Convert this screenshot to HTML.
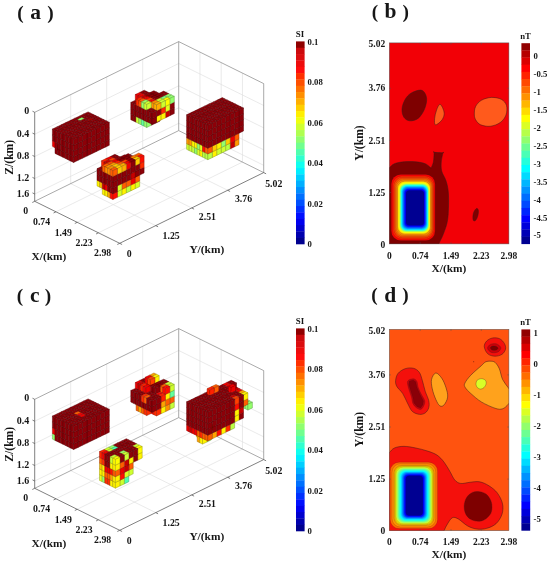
<!DOCTYPE html>
<html><head><meta charset="utf-8"><title>figure</title>
<style>html,body{margin:0;padding:0;background:#fff}svg{display:block}</style></head><body>
<svg width="550" height="563" viewBox="0 0 550 563">
<rect width="550" height="563" fill="#fff"/>
<line x1="70.70" y1="94.62" x2="70.70" y2="183.62" stroke="#dcdcdc" stroke-width="0.6"/>
<line x1="70.70" y1="183.62" x2="155.70" y2="225.62" stroke="#dcdcdc" stroke-width="0.6"/>
<line x1="55.95" y1="211.80" x2="199.95" y2="141.10" stroke="#dcdcdc" stroke-width="0.6"/>
<line x1="199.95" y1="52.10" x2="199.95" y2="141.10" stroke="#dcdcdc" stroke-width="0.6"/>
<line x1="106.70" y1="76.95" x2="106.70" y2="165.95" stroke="#dcdcdc" stroke-width="0.6"/>
<line x1="106.70" y1="165.95" x2="191.70" y2="207.95" stroke="#dcdcdc" stroke-width="0.6"/>
<line x1="77.20" y1="222.30" x2="221.20" y2="151.60" stroke="#dcdcdc" stroke-width="0.6"/>
<line x1="221.20" y1="62.60" x2="221.20" y2="151.60" stroke="#dcdcdc" stroke-width="0.6"/>
<line x1="142.70" y1="59.27" x2="142.70" y2="148.27" stroke="#dcdcdc" stroke-width="0.6"/>
<line x1="142.70" y1="148.28" x2="227.70" y2="190.28" stroke="#dcdcdc" stroke-width="0.6"/>
<line x1="98.45" y1="232.80" x2="242.45" y2="162.10" stroke="#dcdcdc" stroke-width="0.6"/>
<line x1="242.45" y1="73.10" x2="242.45" y2="162.10" stroke="#dcdcdc" stroke-width="0.6"/>
<line x1="34.70" y1="134.19" x2="178.70" y2="63.49" stroke="#dcdcdc" stroke-width="0.6"/>
<line x1="178.70" y1="63.49" x2="263.70" y2="105.49" stroke="#dcdcdc" stroke-width="0.6"/>
<line x1="34.70" y1="156.53" x2="178.70" y2="85.83" stroke="#dcdcdc" stroke-width="0.6"/>
<line x1="178.70" y1="85.83" x2="263.70" y2="127.83" stroke="#dcdcdc" stroke-width="0.6"/>
<line x1="34.70" y1="178.52" x2="178.70" y2="107.82" stroke="#dcdcdc" stroke-width="0.6"/>
<line x1="178.70" y1="107.82" x2="263.70" y2="149.82" stroke="#dcdcdc" stroke-width="0.6"/>
<line x1="34.70" y1="194.00" x2="178.70" y2="123.30" stroke="#dcdcdc" stroke-width="0.6"/>
<line x1="178.70" y1="123.30" x2="263.70" y2="165.30" stroke="#dcdcdc" stroke-width="0.6"/>
<line x1="34.70" y1="112.30" x2="178.70" y2="41.60" stroke="#858585" stroke-width="0.7"/>
<line x1="178.70" y1="41.60" x2="263.70" y2="83.60" stroke="#858585" stroke-width="0.7"/>
<line x1="263.70" y1="83.60" x2="263.70" y2="172.60" stroke="#858585" stroke-width="0.7"/>
<line x1="178.70" y1="41.60" x2="178.70" y2="130.60" stroke="#858585" stroke-width="0.7"/>
<line x1="178.70" y1="130.60" x2="34.70" y2="201.30" stroke="#858585" stroke-width="0.7"/>
<line x1="178.70" y1="130.60" x2="263.70" y2="172.60" stroke="#858585" stroke-width="0.7"/>
<g stroke-width="0.45" stroke-linejoin="round"><polygon points="148.6,93.8 151.3,95.1 155.8,93.0 153.1,91.7" fill="#8c0008" stroke="#540005"/><polygon points="151.3,95.1 153.9,96.4 158.4,94.2 155.8,93.0" fill="#8c0008" stroke="#540005"/><polygon points="153.9,96.4 156.6,97.7 161.1,95.6 158.4,94.2" fill="#8c0008" stroke="#540005"/><polygon points="156.6,97.7 159.2,99.0 163.7,96.9 161.1,95.6" fill="#8c0008" stroke="#540005"/><polygon points="159.2,93.3 161.9,94.6 166.4,92.4 163.7,91.1" fill="#8c0008" stroke="#540005"/><polygon points="161.9,94.6 164.5,95.9 169.0,93.7 166.4,92.4" fill="#8c0008" stroke="#540005"/><polygon points="164.5,95.9 167.2,97.2 171.7,95.0 169.0,93.7" fill="#93ff6c" stroke="#589941"/><polygon points="169.8,110.0 174.3,107.8 174.3,113.6 169.8,115.7" fill="#8c0008" stroke="#540005"/><polygon points="169.8,104.2 174.3,102.1 174.3,107.8 169.8,110.0" fill="#8c0008" stroke="#540005"/><polygon points="167.2,97.2 169.8,98.5 174.3,96.3 171.7,95.0" fill="#93ff6c" stroke="#589941"/><polygon points="169.8,98.5 174.3,96.3 174.3,102.1 169.8,104.2" fill="#93ff6c" stroke="#589941"/><polygon points="144.2,96.0 146.8,97.2 151.3,95.1 148.6,93.8" fill="#8c0008" stroke="#540005"/><polygon points="146.8,97.2 149.5,98.5 153.9,96.4 151.3,95.1" fill="#8c0008" stroke="#540005"/><polygon points="149.5,92.8 152.1,94.1 156.6,92.0 153.9,90.7" fill="#8c0008" stroke="#540005"/><polygon points="152.1,94.1 154.8,95.4 159.2,93.3 156.6,92.0" fill="#8c0008" stroke="#540005"/><polygon points="154.8,95.4 157.4,96.7 161.9,94.6 159.2,93.3" fill="#8c0008" stroke="#540005"/><polygon points="157.4,96.7 160.1,98.0 164.5,95.9 161.9,94.6" fill="#8c0008" stroke="#540005"/><polygon points="160.1,98.0 162.7,99.3 167.2,97.2 164.5,95.9" fill="#80ff80" stroke="#4c994c"/><polygon points="165.4,112.1 169.8,110.0 169.8,115.7 165.4,117.9" fill="#c60000" stroke="#770000"/><polygon points="165.4,106.4 169.8,104.2 169.8,110.0 165.4,112.1" fill="#e3ff1c" stroke="#889911"/><polygon points="162.7,99.3 165.4,100.6 169.8,98.5 167.2,97.2" fill="#fffd00" stroke="#999800"/><polygon points="165.4,100.6 169.8,98.5 169.8,104.2 165.4,106.4" fill="#fffd00" stroke="#999800"/><polygon points="139.7,92.4 142.4,93.7 146.8,91.5 144.2,90.2" fill="#8c0008" stroke="#540005"/><polygon points="142.4,93.7 145.0,95.0 149.5,92.8 146.8,91.5" fill="#8c0008" stroke="#540005"/><polygon points="145.0,95.0 147.7,96.3 152.1,94.1 149.5,92.8" fill="#8c0008" stroke="#540005"/><polygon points="147.7,96.3 150.3,97.6 154.8,95.4 152.1,94.1" fill="#8c0008" stroke="#540005"/><polygon points="150.3,97.6 153.0,98.9 157.4,96.7 154.8,95.4" fill="#8c0008" stroke="#540005"/><polygon points="155.6,117.4 160.1,115.2 160.1,121.0 155.6,123.2" fill="#8c0008" stroke="#540005"/><polygon points="153.0,98.9 155.6,100.2 160.1,98.0 157.4,96.7" fill="#8c0008" stroke="#540005"/><polygon points="155.6,100.2 158.3,101.5 162.7,99.3 160.1,98.0" fill="#cfff30" stroke="#7c991d"/><polygon points="160.9,114.3 165.4,112.1 165.4,117.9 160.9,120.0" fill="#fff300" stroke="#999200"/><polygon points="160.9,108.5 165.4,106.4 165.4,112.1 160.9,114.3" fill="#ff2b00" stroke="#991a00"/><polygon points="158.3,101.5 160.9,102.8 165.4,100.6 162.7,99.3" fill="#cfff30" stroke="#7c991d"/><polygon points="160.9,102.8 165.4,100.6 165.4,106.4 160.9,108.5" fill="#cfff30" stroke="#7c991d"/><polygon points="135.3,94.5 137.9,95.8 142.4,93.7 139.7,92.4" fill="#ee0000" stroke="#8f0000"/><polygon points="135.3,94.5 137.9,95.8 137.9,101.5 135.3,100.2" fill="#ee0000" stroke="#8f0000"/><polygon points="137.9,95.8 140.6,97.1 145.0,95.0 142.4,93.7" fill="#ee0000" stroke="#8f0000"/><polygon points="137.9,95.8 140.6,97.1 140.6,102.8 137.9,101.5" fill="#ee0000" stroke="#8f0000"/><polygon points="140.6,97.1 143.2,98.4 147.7,96.3 145.0,95.0" fill="#c60000" stroke="#770000"/><polygon points="143.2,98.4 145.9,99.7 150.3,97.6 147.7,96.3" fill="#ee0000" stroke="#8f0000"/><polygon points="145.9,99.7 148.5,101.0 153.0,98.9 150.3,97.6" fill="#ff3f00" stroke="#992600"/><polygon points="151.2,119.5 155.6,117.4 155.6,123.2 151.2,125.3" fill="#8c0008" stroke="#540005"/><polygon points="148.5,101.0 151.2,102.3 155.6,100.2 153.0,98.9" fill="#ee0000" stroke="#8f0000"/><polygon points="151.2,102.3 153.8,103.6 158.3,101.5 155.6,100.2" fill="#ff8f00" stroke="#995600"/><polygon points="151.2,102.3 153.8,103.6 153.8,109.3 151.2,108.0" fill="#ff8f00" stroke="#995600"/><polygon points="156.5,116.4 160.9,114.3 160.9,120.0 156.5,122.2" fill="#fff300" stroke="#999200"/><polygon points="156.5,110.7 160.9,108.5 160.9,114.3 156.5,116.4" fill="#8c0008" stroke="#540005"/><polygon points="153.8,103.6 156.5,104.9 160.9,102.8 158.3,101.5" fill="#ffad00" stroke="#996800"/><polygon points="153.8,103.6 156.5,104.9 156.5,110.7 153.8,109.3" fill="#ffad00" stroke="#996800"/><polygon points="156.5,104.9 160.9,102.8 160.9,108.5 156.5,110.7" fill="#ffad00" stroke="#996800"/><polygon points="130.8,113.9 133.5,115.2 133.5,121.0 130.8,119.7" fill="#8c0008" stroke="#540005"/><polygon points="130.8,108.2 133.5,109.5 133.5,115.2 130.8,113.9" fill="#8c0008" stroke="#540005"/><polygon points="130.8,102.4 133.5,103.7 137.9,101.5 135.3,100.2" fill="#8c0008" stroke="#540005"/><polygon points="130.8,102.4 133.5,103.7 133.5,109.5 130.8,108.2" fill="#8c0008" stroke="#540005"/><polygon points="133.5,115.2 136.1,116.5 136.1,122.2 133.5,121.0" fill="#8c0008" stroke="#540005"/><polygon points="133.5,109.5 136.1,110.8 136.1,116.5 133.5,115.2" fill="#8c0008" stroke="#540005"/><polygon points="133.5,103.7 136.1,105.0 140.6,102.8 137.9,101.5" fill="#8c0008" stroke="#540005"/><polygon points="133.5,103.7 136.1,105.0 136.1,110.8 133.5,109.5" fill="#8c0008" stroke="#540005"/><polygon points="136.1,116.5 138.8,117.8 138.8,123.6 136.1,122.2" fill="#cfff30" stroke="#7c991d"/><polygon points="136.1,110.8 138.8,112.1 138.8,117.8 136.1,116.5" fill="#8c0008" stroke="#540005"/><polygon points="136.1,105.0 138.8,106.3 138.8,112.1 136.1,110.8" fill="#8c0008" stroke="#540005"/><polygon points="136.1,99.2 138.8,100.6 143.2,98.4 140.6,97.1" fill="#ff2b00" stroke="#991a00"/><polygon points="136.1,99.2 138.8,100.6 138.8,106.3 136.1,105.0" fill="#ff2b00" stroke="#991a00"/><polygon points="138.8,117.8 141.4,119.1 141.4,124.9 138.8,123.6" fill="#9dff62" stroke="#5e993b"/><polygon points="138.8,112.1 141.4,113.4 141.4,119.1 138.8,117.8" fill="#8c0008" stroke="#540005"/><polygon points="138.8,106.3 141.4,107.6 141.4,113.4 138.8,112.1" fill="#8c0008" stroke="#540005"/><polygon points="138.8,100.6 141.4,101.9 145.9,99.7 143.2,98.4" fill="#ff5d00" stroke="#993800"/><polygon points="138.8,100.6 141.4,101.9 141.4,107.6 138.8,106.3" fill="#ff5d00" stroke="#993800"/><polygon points="141.4,119.1 144.1,120.4 144.1,126.2 141.4,124.9" fill="#62ff9d" stroke="#3b995e"/><polygon points="141.4,113.4 144.1,114.7 144.1,120.4 141.4,119.1" fill="#8c0008" stroke="#540005"/><polygon points="141.4,107.6 144.1,108.9 144.1,114.7 141.4,113.4" fill="#8c0008" stroke="#540005"/><polygon points="141.4,101.9 144.1,103.2 148.5,101.0 145.9,99.7" fill="#9dff62" stroke="#5e993b"/><polygon points="141.4,101.9 144.1,103.2 144.1,108.9 141.4,107.6" fill="#9dff62" stroke="#5e993b"/><polygon points="144.1,120.4 146.7,121.7 146.7,127.5 144.1,126.2" fill="#93ff6c" stroke="#589941"/><polygon points="146.7,121.7 151.2,119.5 151.2,125.3 146.7,127.5" fill="#93ff6c" stroke="#589941"/><polygon points="144.1,114.7 146.7,116.0 146.7,121.7 144.1,120.4" fill="#8c0008" stroke="#540005"/><polygon points="144.1,108.9 146.7,110.2 146.7,116.0 144.1,114.7" fill="#8c0008" stroke="#540005"/><polygon points="144.1,103.2 146.7,104.5 151.2,102.3 148.5,101.0" fill="#cfff30" stroke="#7c991d"/><polygon points="144.1,103.2 146.7,104.5 146.7,110.2 144.1,108.9" fill="#cfff30" stroke="#7c991d"/><polygon points="146.7,104.5 151.2,102.3 151.2,108.0 146.7,110.2" fill="#cfff30" stroke="#7c991d"/><polygon points="146.7,116.0 149.4,117.2 149.4,123.0 146.7,121.7" fill="#8c0008" stroke="#540005"/><polygon points="146.7,110.2 149.4,111.5 153.8,109.3 151.2,108.0" fill="#8c0008" stroke="#540005"/><polygon points="146.7,110.2 149.4,111.5 149.4,117.2 146.7,116.0" fill="#8c0008" stroke="#540005"/><polygon points="149.4,117.2 152.0,118.6 152.0,124.3 149.4,123.0" fill="#8c0008" stroke="#540005"/><polygon points="152.0,118.6 156.5,116.4 156.5,122.2 152.0,124.3" fill="#8c0008" stroke="#540005"/><polygon points="149.4,111.5 152.0,112.8 156.5,110.7 153.8,109.3" fill="#8c0008" stroke="#540005"/><polygon points="149.4,111.5 152.0,112.8 152.0,118.6 149.4,117.2" fill="#8c0008" stroke="#540005"/><polygon points="152.0,112.8 156.5,110.7 156.5,116.4 152.0,118.6" fill="#8c0008" stroke="#540005"/></g>
<g stroke-width="0.45" stroke-linejoin="round"><polygon points="83.6,114.0 86.3,115.4 90.7,113.2 88.1,111.9" fill="#8c0008" stroke="#540005"/><polygon points="86.3,115.4 88.9,116.6 93.4,114.5 90.7,113.2" fill="#8c0008" stroke="#540005"/><polygon points="88.9,116.6 91.6,118.0 96.0,115.8 93.4,114.5" fill="#8c0008" stroke="#540005"/><polygon points="91.6,118.0 94.2,119.2 98.7,117.1 96.0,115.8" fill="#8c0008" stroke="#540005"/><polygon points="94.2,119.2 96.9,120.5 101.3,118.4 98.7,117.1" fill="#8c0008" stroke="#540005"/><polygon points="96.9,120.5 99.5,121.9 104.0,119.7 101.3,118.4" fill="#8c0008" stroke="#540005"/><polygon points="99.5,121.9 102.2,123.1 106.6,121.0 104.0,119.7" fill="#8c0008" stroke="#540005"/><polygon points="104.8,141.7 109.3,139.6 109.3,145.3 104.8,147.4" fill="#8c0008" stroke="#540005"/><polygon points="104.8,135.9 109.3,133.8 109.3,139.6 104.8,141.7" fill="#8c0008" stroke="#540005"/><polygon points="104.8,130.2 109.3,128.1 109.3,133.8 104.8,135.9" fill="#8c0008" stroke="#540005"/><polygon points="102.2,123.1 104.8,124.5 109.3,122.3 106.6,121.0" fill="#8c0008" stroke="#540005"/><polygon points="104.8,124.5 109.3,122.3 109.3,128.1 104.8,130.2" fill="#8c0008" stroke="#540005"/><polygon points="79.2,116.2 81.8,117.5 86.3,115.4 83.6,114.0" fill="#8c0008" stroke="#540005"/><polygon points="81.8,117.5 84.5,118.8 88.9,116.6 86.3,115.4" fill="#8c0008" stroke="#540005"/><polygon points="84.5,118.8 87.1,120.1 91.6,118.0 88.9,116.6" fill="#8c0008" stroke="#540005"/><polygon points="87.1,120.1 89.8,121.4 94.2,119.2 91.6,118.0" fill="#a80000" stroke="#650000"/><polygon points="89.8,121.4 92.4,122.7 96.9,120.5 94.2,119.2" fill="#8c0008" stroke="#540005"/><polygon points="92.4,122.7 95.1,124.0 99.5,121.9 96.9,120.5" fill="#8c0008" stroke="#540005"/><polygon points="95.1,124.0 97.7,125.3 102.2,123.1 99.5,121.9" fill="#8c0008" stroke="#540005"/><polygon points="100.4,143.8 104.8,141.7 104.8,147.4 100.4,149.6" fill="#8c0008" stroke="#540005"/><polygon points="100.4,138.1 104.8,135.9 104.8,141.7 100.4,143.8" fill="#8c0008" stroke="#540005"/><polygon points="100.4,132.3 104.8,130.2 104.8,135.9 100.4,138.1" fill="#8c0008" stroke="#540005"/><polygon points="97.7,125.3 100.4,126.6 104.8,124.5 102.2,123.1" fill="#8c0008" stroke="#540005"/><polygon points="100.4,126.6 104.8,124.5 104.8,130.2 100.4,132.3" fill="#8c0008" stroke="#540005"/><polygon points="74.7,118.3 77.3,119.7 81.8,117.5 79.2,116.2" fill="#8c0008" stroke="#540005"/><polygon points="77.3,119.7 80.0,120.9 84.5,118.8 81.8,117.5" fill="#93ff6c" stroke="#589941"/><polygon points="80.0,120.9 82.6,122.2 87.1,120.1 84.5,118.8" fill="#8c0008" stroke="#540005"/><polygon points="82.6,122.2 85.3,123.5 89.8,121.4 87.1,120.1" fill="#8c0008" stroke="#540005"/><polygon points="85.3,123.5 88.0,124.8 92.4,122.7 89.8,121.4" fill="#8c0008" stroke="#540005"/><polygon points="88.0,124.8 90.6,126.2 95.1,124.0 92.4,122.7" fill="#8c0008" stroke="#540005"/><polygon points="90.6,126.2 93.2,127.4 97.7,125.3 95.1,124.0" fill="#8c0008" stroke="#540005"/><polygon points="95.9,146.0 100.4,143.8 100.4,149.6 95.9,151.8" fill="#8c0008" stroke="#540005"/><polygon points="95.9,140.2 100.4,138.1 100.4,143.8 95.9,146.0" fill="#8c0008" stroke="#540005"/><polygon points="95.9,134.5 100.4,132.3 100.4,138.1 95.9,140.2" fill="#8c0008" stroke="#540005"/><polygon points="93.2,127.4 95.9,128.8 100.4,126.6 97.7,125.3" fill="#8c0008" stroke="#540005"/><polygon points="95.9,128.8 100.4,126.6 100.4,132.3 95.9,134.5" fill="#8c0008" stroke="#540005"/><polygon points="70.2,120.5 72.9,121.8 77.3,119.7 74.7,118.3" fill="#8c0008" stroke="#540005"/><polygon points="72.9,121.8 75.5,123.1 80.0,120.9 77.3,119.7" fill="#8c0008" stroke="#540005"/><polygon points="75.5,123.1 78.2,124.4 82.6,122.2 80.0,120.9" fill="#8c0008" stroke="#540005"/><polygon points="78.2,124.4 80.8,125.7 85.3,123.5 82.6,122.2" fill="#8c0008" stroke="#540005"/><polygon points="80.8,125.7 83.5,127.0 88.0,124.8 85.3,123.5" fill="#8c0008" stroke="#540005"/><polygon points="83.5,127.0 86.1,128.3 90.6,126.2 88.0,124.8" fill="#8c0008" stroke="#540005"/><polygon points="86.1,128.3 88.8,129.6 93.2,127.4 90.6,126.2" fill="#8c0008" stroke="#540005"/><polygon points="91.4,148.2 95.9,146.0 95.9,151.8 91.4,153.9" fill="#8c0008" stroke="#540005"/><polygon points="91.4,142.4 95.9,140.2 95.9,146.0 91.4,148.2" fill="#8c0008" stroke="#540005"/><polygon points="91.4,136.7 95.9,134.5 95.9,140.2 91.4,142.4" fill="#8c0008" stroke="#540005"/><polygon points="88.8,129.6 91.4,130.9 95.9,128.8 93.2,127.4" fill="#8c0008" stroke="#540005"/><polygon points="91.4,130.9 95.9,128.8 95.9,134.5 91.4,136.7" fill="#8c0008" stroke="#540005"/><polygon points="65.8,122.6 68.4,124.0 72.9,121.8 70.2,120.5" fill="#8c0008" stroke="#540005"/><polygon points="68.4,124.0 71.1,125.2 75.5,123.1 72.9,121.8" fill="#8c0008" stroke="#540005"/><polygon points="71.1,125.2 73.7,126.5 78.2,124.4 75.5,123.1" fill="#8c0008" stroke="#540005"/><polygon points="73.7,126.5 76.4,127.8 80.8,125.7 78.2,124.4" fill="#8c0008" stroke="#540005"/><polygon points="76.4,127.8 79.0,129.2 83.5,127.0 80.8,125.7" fill="#8c0008" stroke="#540005"/><polygon points="79.0,129.2 81.7,130.5 86.1,128.3 83.5,127.0" fill="#8c0008" stroke="#540005"/><polygon points="81.7,130.5 84.3,131.8 88.8,129.6 86.1,128.3" fill="#8c0008" stroke="#540005"/><polygon points="87.0,150.3 91.4,148.2 91.4,153.9 87.0,156.1" fill="#8c0008" stroke="#540005"/><polygon points="87.0,144.6 91.4,142.4 91.4,148.2 87.0,150.3" fill="#8c0008" stroke="#540005"/><polygon points="87.0,138.8 91.4,136.7 91.4,142.4 87.0,144.6" fill="#8c0008" stroke="#540005"/><polygon points="84.3,131.8 87.0,133.1 91.4,130.9 88.8,129.6" fill="#8c0008" stroke="#540005"/><polygon points="87.0,133.1 91.4,130.9 91.4,136.7 87.0,138.8" fill="#8c0008" stroke="#540005"/><polygon points="61.3,124.8 64.0,126.1 68.4,124.0 65.8,122.6" fill="#8c0008" stroke="#540005"/><polygon points="64.0,126.1 66.6,127.4 71.1,125.2 68.4,124.0" fill="#8c0008" stroke="#540005"/><polygon points="66.6,127.4 69.3,128.7 73.7,126.5 71.1,125.2" fill="#8c0008" stroke="#540005"/><polygon points="69.3,128.7 71.9,130.0 76.4,127.8 73.7,126.5" fill="#8c0008" stroke="#540005"/><polygon points="71.9,130.0 74.6,131.3 79.0,129.2 76.4,127.8" fill="#8c0008" stroke="#540005"/><polygon points="74.6,131.3 77.2,132.6 81.7,130.5 79.0,129.2" fill="#8c0008" stroke="#540005"/><polygon points="77.2,132.6 79.9,133.9 84.3,131.8 81.7,130.5" fill="#8c0008" stroke="#540005"/><polygon points="82.5,152.4 87.0,150.3 87.0,156.1 82.5,158.2" fill="#8c0008" stroke="#540005"/><polygon points="82.5,146.7 87.0,144.6 87.0,150.3 82.5,152.4" fill="#8c0008" stroke="#540005"/><polygon points="82.5,140.9 87.0,138.8 87.0,144.6 82.5,146.7" fill="#8c0008" stroke="#540005"/><polygon points="79.9,133.9 82.5,135.2 87.0,133.1 84.3,131.8" fill="#8c0008" stroke="#540005"/><polygon points="82.5,135.2 87.0,133.1 87.0,138.8 82.5,140.9" fill="#8c0008" stroke="#540005"/><polygon points="56.9,144.2 59.5,145.5 59.5,151.2 56.9,149.9" fill="#8c0008" stroke="#540005"/><polygon points="56.9,126.9 59.5,128.2 64.0,126.1 61.3,124.8" fill="#8c0008" stroke="#540005"/><polygon points="59.5,128.2 62.2,129.5 66.6,127.4 64.0,126.1" fill="#8c0008" stroke="#540005"/><polygon points="62.2,129.5 64.8,130.8 69.3,128.7 66.6,127.4" fill="#8c0008" stroke="#540005"/><polygon points="64.8,130.8 67.5,132.1 71.9,130.0 69.3,128.7" fill="#8c0008" stroke="#540005"/><polygon points="67.5,132.1 70.1,133.4 74.6,131.3 71.9,130.0" fill="#8c0008" stroke="#540005"/><polygon points="70.1,133.4 72.8,134.8 77.2,132.6 74.6,131.3" fill="#8c0008" stroke="#540005"/><polygon points="72.8,134.8 75.4,136.0 79.9,133.9 77.2,132.6" fill="#8c0008" stroke="#540005"/><polygon points="78.1,154.6 82.5,152.4 82.5,158.2 78.1,160.3" fill="#8c0008" stroke="#540005"/><polygon points="78.1,148.8 82.5,146.7 82.5,152.4 78.1,154.6" fill="#8c0008" stroke="#540005"/><polygon points="78.1,143.1 82.5,140.9 82.5,146.7 78.1,148.8" fill="#8c0008" stroke="#540005"/><polygon points="75.4,136.0 78.1,137.3 82.5,135.2 79.9,133.9" fill="#8c0008" stroke="#540005"/><polygon points="78.1,137.3 82.5,135.2 82.5,140.9 78.1,143.1" fill="#8c0008" stroke="#540005"/><polygon points="52.4,140.6 55.0,141.9 55.0,147.7 52.4,146.3" fill="#ee0000" stroke="#8f0000"/><polygon points="52.4,134.8 55.0,136.2 55.0,141.9 52.4,140.6" fill="#8c0008" stroke="#540005"/><polygon points="52.4,129.1 55.0,130.4 59.5,128.2 56.9,126.9" fill="#8c0008" stroke="#540005"/><polygon points="52.4,129.1 55.0,130.4 55.0,136.2 52.4,134.8" fill="#8c0008" stroke="#540005"/><polygon points="55.0,147.7 57.7,148.9 57.7,154.7 55.0,153.4" fill="#8c0008" stroke="#540005"/><polygon points="55.0,141.9 57.7,143.2 57.7,148.9 55.0,147.7" fill="#8c0008" stroke="#540005"/><polygon points="55.0,136.2 57.7,137.4 57.7,143.2 55.0,141.9" fill="#8c0008" stroke="#540005"/><polygon points="55.0,130.4 57.7,131.7 62.2,129.5 59.5,128.2" fill="#8c0008" stroke="#540005"/><polygon points="55.0,130.4 57.7,131.7 57.7,137.4 55.0,136.2" fill="#8c0008" stroke="#540005"/><polygon points="57.7,148.9 60.3,150.2 60.3,156.0 57.7,154.7" fill="#8c0008" stroke="#540005"/><polygon points="57.7,143.2 60.3,144.5 60.3,150.2 57.7,148.9" fill="#8c0008" stroke="#540005"/><polygon points="57.7,137.4 60.3,138.8 60.3,144.5 57.7,143.2" fill="#8c0008" stroke="#540005"/><polygon points="57.7,131.7 60.3,133.0 64.8,130.8 62.2,129.5" fill="#8c0008" stroke="#540005"/><polygon points="57.7,131.7 60.3,133.0 60.3,138.8 57.7,137.4" fill="#8c0008" stroke="#540005"/><polygon points="60.3,150.2 63.0,151.5 63.0,157.3 60.3,156.0" fill="#8c0008" stroke="#540005"/><polygon points="60.3,144.5 63.0,145.8 63.0,151.5 60.3,150.2" fill="#8c0008" stroke="#540005"/><polygon points="60.3,138.8 63.0,140.0 63.0,145.8 60.3,144.5" fill="#8c0008" stroke="#540005"/><polygon points="60.3,133.0 63.0,134.3 67.5,132.1 64.8,130.8" fill="#8c0008" stroke="#540005"/><polygon points="60.3,133.0 63.0,134.3 63.0,140.0 60.3,138.8" fill="#8c0008" stroke="#540005"/><polygon points="63.0,151.5 65.7,152.8 65.7,158.6 63.0,157.3" fill="#8c0008" stroke="#540005"/><polygon points="63.0,145.8 65.7,147.1 65.7,152.8 63.0,151.5" fill="#8c0008" stroke="#540005"/><polygon points="63.0,140.0 65.7,141.3 65.7,147.1 63.0,145.8" fill="#8c0008" stroke="#540005"/><polygon points="63.0,134.3 65.7,135.6 70.1,133.4 67.5,132.1" fill="#8c0008" stroke="#540005"/><polygon points="63.0,134.3 65.7,135.6 65.7,141.3 63.0,140.0" fill="#8c0008" stroke="#540005"/><polygon points="65.7,152.8 68.3,154.2 68.3,159.9 65.7,158.6" fill="#8c0008" stroke="#540005"/><polygon points="65.7,147.1 68.3,148.4 68.3,154.2 65.7,152.8" fill="#8c0008" stroke="#540005"/><polygon points="65.7,141.3 68.3,142.7 68.3,148.4 65.7,147.1" fill="#8c0008" stroke="#540005"/><polygon points="65.7,135.6 68.3,136.9 72.8,134.8 70.1,133.4" fill="#8c0008" stroke="#540005"/><polygon points="65.7,135.6 68.3,136.9 68.3,142.7 65.7,141.3" fill="#8c0008" stroke="#540005"/><polygon points="68.3,154.2 71.0,155.4 71.0,161.2 68.3,159.9" fill="#8c0008" stroke="#540005"/><polygon points="68.3,148.4 71.0,149.7 71.0,155.4 68.3,154.2" fill="#8c0008" stroke="#540005"/><polygon points="68.3,142.7 71.0,143.9 71.0,149.7 68.3,148.4" fill="#8c0008" stroke="#540005"/><polygon points="68.3,136.9 71.0,138.2 75.4,136.0 72.8,134.8" fill="#8c0008" stroke="#540005"/><polygon points="68.3,136.9 71.0,138.2 71.0,143.9 68.3,142.7" fill="#8c0008" stroke="#540005"/><polygon points="71.0,155.4 73.6,156.8 73.6,162.5 71.0,161.2" fill="#8c0008" stroke="#540005"/><polygon points="73.6,156.8 78.1,154.6 78.1,160.3 73.6,162.5" fill="#8c0008" stroke="#540005"/><polygon points="71.0,149.7 73.6,151.0 73.6,156.8 71.0,155.4" fill="#8c0008" stroke="#540005"/><polygon points="73.6,151.0 78.1,148.8 78.1,154.6 73.6,156.8" fill="#8c0008" stroke="#540005"/><polygon points="71.0,143.9 73.6,145.2 73.6,151.0 71.0,149.7" fill="#8c0008" stroke="#540005"/><polygon points="73.6,145.2 78.1,143.1 78.1,148.8 73.6,151.0" fill="#8c0008" stroke="#540005"/><polygon points="71.0,138.2 73.6,139.5 78.1,137.3 75.4,136.0" fill="#8c0008" stroke="#540005"/><polygon points="71.0,138.2 73.6,139.5 73.6,145.2 71.0,143.9" fill="#8c0008" stroke="#540005"/><polygon points="73.6,139.5 78.1,137.3 78.1,143.1 73.6,145.2" fill="#8c0008" stroke="#540005"/></g>
<g stroke-width="0.45" stroke-linejoin="round"><polygon points="217.8,99.8 220.5,101.0 224.9,98.9 222.3,97.6" fill="#8c0008" stroke="#540005"/><polygon points="220.5,101.0 223.1,102.3 227.6,100.2 224.9,98.9" fill="#8c0008" stroke="#540005"/><polygon points="223.1,102.3 225.8,103.7 230.2,101.5 227.6,100.2" fill="#8c0008" stroke="#540005"/><polygon points="225.8,103.7 228.4,105.0 232.9,102.8 230.2,101.5" fill="#8c0008" stroke="#540005"/><polygon points="228.4,105.0 231.1,106.2 235.5,104.1 232.9,102.8" fill="#8c0008" stroke="#540005"/><polygon points="231.1,106.2 233.7,107.5 238.2,105.4 235.5,104.1" fill="#8c0008" stroke="#540005"/><polygon points="233.7,107.5 236.4,108.8 240.8,106.7 238.2,105.4" fill="#8c0008" stroke="#540005"/><polygon points="239.0,127.4 243.5,125.2 243.5,131.0 239.0,133.2" fill="#8c0008" stroke="#540005"/><polygon points="239.0,121.7 243.5,119.5 243.5,125.2 239.0,127.4" fill="#8c0008" stroke="#540005"/><polygon points="239.0,115.9 243.5,113.8 243.5,119.5 239.0,121.7" fill="#8c0008" stroke="#540005"/><polygon points="236.4,108.8 239.0,110.2 243.5,108.0 240.8,106.7" fill="#8c0008" stroke="#540005"/><polygon points="239.0,110.2 243.5,108.0 243.5,113.8 239.0,115.9" fill="#8c0008" stroke="#540005"/><polygon points="213.4,101.9 216.0,103.2 220.5,101.0 217.8,99.8" fill="#8c0008" stroke="#540005"/><polygon points="216.0,103.2 218.7,104.5 223.1,102.3 220.5,101.0" fill="#8c0008" stroke="#540005"/><polygon points="218.7,104.5 221.3,105.8 225.8,103.7 223.1,102.3" fill="#8c0008" stroke="#540005"/><polygon points="221.3,105.8 224.0,107.1 228.4,105.0 225.8,103.7" fill="#8c0008" stroke="#540005"/><polygon points="224.0,107.1 226.6,108.4 231.1,106.2 228.4,105.0" fill="#8c0008" stroke="#540005"/><polygon points="226.6,108.4 229.3,109.7 233.7,107.5 231.1,106.2" fill="#8c0008" stroke="#540005"/><polygon points="229.3,109.7 231.9,111.0 236.4,108.8 233.7,107.5" fill="#8c0008" stroke="#540005"/><polygon points="234.6,141.1 239.0,138.9 239.0,144.7 234.6,146.8" fill="#ff9900" stroke="#995c00"/><polygon points="234.6,135.3 239.0,133.2 239.0,138.9 234.6,141.1" fill="#ff5d00" stroke="#993800"/><polygon points="234.6,129.6 239.0,127.4 239.0,133.2 234.6,135.3" fill="#8c0008" stroke="#540005"/><polygon points="234.6,123.8 239.0,121.7 239.0,127.4 234.6,129.6" fill="#8c0008" stroke="#540005"/><polygon points="234.6,118.1 239.0,115.9 239.0,121.7 234.6,123.8" fill="#8c0008" stroke="#540005"/><polygon points="231.9,111.0 234.6,112.3 239.0,110.2 236.4,108.8" fill="#8c0008" stroke="#540005"/><polygon points="234.6,112.3 239.0,110.2 239.0,115.9 234.6,118.1" fill="#8c0008" stroke="#540005"/><polygon points="208.9,104.0 211.6,105.3 216.0,103.2 213.4,101.9" fill="#8c0008" stroke="#540005"/><polygon points="211.6,105.3 214.2,106.6 218.7,104.5 216.0,103.2" fill="#8c0008" stroke="#540005"/><polygon points="214.2,106.6 216.8,108.0 221.3,105.8 218.7,104.5" fill="#8c0008" stroke="#540005"/><polygon points="216.8,108.0 219.5,109.2 224.0,107.1 221.3,105.8" fill="#8c0008" stroke="#540005"/><polygon points="219.5,109.2 222.2,110.5 226.6,108.4 224.0,107.1" fill="#8c0008" stroke="#540005"/><polygon points="222.2,110.5 224.8,111.8 229.3,109.7 226.6,108.4" fill="#8c0008" stroke="#540005"/><polygon points="224.8,111.8 227.5,113.1 231.9,111.0 229.3,109.7" fill="#8c0008" stroke="#540005"/><polygon points="230.1,143.2 234.6,141.1 234.6,146.8 230.1,148.9" fill="#c60000" stroke="#770000"/><polygon points="230.1,137.4 234.6,135.3 234.6,141.1 230.1,143.2" fill="#ee0000" stroke="#8f0000"/><polygon points="230.1,131.7 234.6,129.6 234.6,135.3 230.1,137.4" fill="#8c0008" stroke="#540005"/><polygon points="230.1,126.0 234.6,123.8 234.6,129.6 230.1,131.7" fill="#8c0008" stroke="#540005"/><polygon points="230.1,120.2 234.6,118.1 234.6,123.8 230.1,126.0" fill="#8c0008" stroke="#540005"/><polygon points="227.5,113.1 230.1,114.5 234.6,112.3 231.9,111.0" fill="#8c0008" stroke="#540005"/><polygon points="230.1,114.5 234.6,112.3 234.6,118.1 230.1,120.2" fill="#8c0008" stroke="#540005"/><polygon points="204.4,106.2 207.1,107.5 211.6,105.3 208.9,104.0" fill="#8c0008" stroke="#540005"/><polygon points="207.1,107.5 209.7,108.8 214.2,106.6 211.6,105.3" fill="#8c0008" stroke="#540005"/><polygon points="209.7,108.8 212.4,110.1 216.8,108.0 214.2,106.6" fill="#8c0008" stroke="#540005"/><polygon points="212.4,110.1 215.0,111.4 219.5,109.2 216.8,108.0" fill="#8c0008" stroke="#540005"/><polygon points="215.0,111.4 217.7,112.7 222.2,110.5 219.5,109.2" fill="#8c0008" stroke="#540005"/><polygon points="217.7,112.7 220.3,114.0 224.8,111.8 222.2,110.5" fill="#8c0008" stroke="#540005"/><polygon points="220.3,114.0 223.0,115.3 227.5,113.1 224.8,111.8" fill="#8c0008" stroke="#540005"/><polygon points="225.6,145.4 230.1,143.2 230.1,148.9 225.6,151.1" fill="#bbff44" stroke="#709929"/><polygon points="225.6,139.6 230.1,137.4 230.1,143.2 225.6,145.4" fill="#ffcb00" stroke="#997a00"/><polygon points="225.6,133.9 230.1,131.7 230.1,137.4 225.6,139.6" fill="#8c0008" stroke="#540005"/><polygon points="225.6,128.1 230.1,126.0 230.1,131.7 225.6,133.9" fill="#8c0008" stroke="#540005"/><polygon points="225.6,122.4 230.1,120.2 230.1,126.0 225.6,128.1" fill="#8c0008" stroke="#540005"/><polygon points="223.0,115.3 225.6,116.6 230.1,114.5 227.5,113.1" fill="#8c0008" stroke="#540005"/><polygon points="225.6,116.6 230.1,114.5 230.1,120.2 225.6,122.4" fill="#8c0008" stroke="#540005"/><polygon points="200.0,108.3 202.6,109.6 207.1,107.5 204.4,106.2" fill="#8c0008" stroke="#540005"/><polygon points="202.6,109.6 205.3,110.9 209.7,108.8 207.1,107.5" fill="#8c0008" stroke="#540005"/><polygon points="205.3,110.9 207.9,112.2 212.4,110.1 209.7,108.8" fill="#8c0008" stroke="#540005"/><polygon points="207.9,112.2 210.6,113.5 215.0,111.4 212.4,110.1" fill="#8c0008" stroke="#540005"/><polygon points="210.6,113.5 213.2,114.8 217.7,112.7 215.0,111.4" fill="#8c0008" stroke="#540005"/><polygon points="213.2,114.8 215.9,116.1 220.3,114.0 217.7,112.7" fill="#8c0008" stroke="#540005"/><polygon points="215.9,116.1 218.5,117.4 223.0,115.3 220.3,114.0" fill="#8c0008" stroke="#540005"/><polygon points="221.2,147.5 225.6,145.4 225.6,151.1 221.2,153.2" fill="#cfff30" stroke="#7c991d"/><polygon points="221.2,141.8 225.6,139.6 225.6,145.4 221.2,147.5" fill="#93ff6c" stroke="#589941"/><polygon points="221.2,136.0 225.6,133.9 225.6,139.6 221.2,141.8" fill="#8c0008" stroke="#540005"/><polygon points="221.2,130.2 225.6,128.1 225.6,133.9 221.2,136.0" fill="#8c0008" stroke="#540005"/><polygon points="221.2,124.5 225.6,122.4 225.6,128.1 221.2,130.2" fill="#8c0008" stroke="#540005"/><polygon points="218.5,117.4 221.2,118.8 225.6,116.6 223.0,115.3" fill="#8c0008" stroke="#540005"/><polygon points="221.2,118.8 225.6,116.6 225.6,122.4 221.2,124.5" fill="#8c0008" stroke="#540005"/><polygon points="195.5,110.5 198.2,111.8 202.6,109.6 200.0,108.3" fill="#8c0008" stroke="#540005"/><polygon points="198.2,111.8 200.8,113.1 205.3,110.9 202.6,109.6" fill="#8c0008" stroke="#540005"/><polygon points="200.8,113.1 203.5,114.4 207.9,112.2 205.3,110.9" fill="#8c0008" stroke="#540005"/><polygon points="203.5,114.4 206.1,115.7 210.6,113.5 207.9,112.2" fill="#8c0008" stroke="#540005"/><polygon points="206.1,115.7 208.8,117.0 213.2,114.8 210.6,113.5" fill="#8c0008" stroke="#540005"/><polygon points="208.8,117.0 211.4,118.3 215.9,116.1 213.2,114.8" fill="#8c0008" stroke="#540005"/><polygon points="211.4,118.3 214.1,119.6 218.5,117.4 215.9,116.1" fill="#8c0008" stroke="#540005"/><polygon points="216.7,149.7 221.2,147.5 221.2,153.2 216.7,155.4" fill="#cfff30" stroke="#7c991d"/><polygon points="216.7,143.9 221.2,141.8 221.2,147.5 216.7,149.7" fill="#fff300" stroke="#999200"/><polygon points="216.7,138.2 221.2,136.0 221.2,141.8 216.7,143.9" fill="#8c0008" stroke="#540005"/><polygon points="216.7,132.4 221.2,130.2 221.2,136.0 216.7,138.2" fill="#8c0008" stroke="#540005"/><polygon points="216.7,126.7 221.2,124.5 221.2,130.2 216.7,132.4" fill="#8c0008" stroke="#540005"/><polygon points="214.1,119.6 216.7,120.9 221.2,118.8 218.5,117.4" fill="#8c0008" stroke="#540005"/><polygon points="216.7,120.9 221.2,118.8 221.2,124.5 216.7,126.7" fill="#8c0008" stroke="#540005"/><polygon points="191.1,112.6 193.7,113.9 198.2,111.8 195.5,110.5" fill="#8c0008" stroke="#540005"/><polygon points="193.7,113.9 196.4,115.2 200.8,113.1 198.2,111.8" fill="#8c0008" stroke="#540005"/><polygon points="196.4,115.2 199.0,116.5 203.5,114.4 200.8,113.1" fill="#8c0008" stroke="#540005"/><polygon points="199.0,116.5 201.7,117.8 206.1,115.7 203.5,114.4" fill="#8c0008" stroke="#540005"/><polygon points="201.7,117.8 204.3,119.1 208.8,117.0 206.1,115.7" fill="#8c0008" stroke="#540005"/><polygon points="204.3,119.1 207.0,120.4 211.4,118.3 208.8,117.0" fill="#8c0008" stroke="#540005"/><polygon points="207.0,120.4 209.6,121.7 214.1,119.6 211.4,118.3" fill="#8c0008" stroke="#540005"/><polygon points="212.3,151.8 216.7,149.7 216.7,155.4 212.3,157.6" fill="#fff300" stroke="#999200"/><polygon points="212.3,146.1 216.7,143.9 216.7,149.7 212.3,151.8" fill="#ffcb00" stroke="#997a00"/><polygon points="212.3,140.3 216.7,138.2 216.7,143.9 212.3,146.1" fill="#8c0008" stroke="#540005"/><polygon points="212.3,134.6 216.7,132.4 216.7,138.2 212.3,140.3" fill="#8c0008" stroke="#540005"/><polygon points="212.3,128.8 216.7,126.7 216.7,132.4 212.3,134.6" fill="#8c0008" stroke="#540005"/><polygon points="209.6,121.7 212.3,123.0 216.7,120.9 214.1,119.6" fill="#8c0008" stroke="#540005"/><polygon points="212.3,123.0 216.7,120.9 216.7,126.7 212.3,128.8" fill="#8c0008" stroke="#540005"/><polygon points="186.6,143.6 189.2,144.8 189.2,150.6 186.6,149.3" fill="#cfff30" stroke="#7c991d"/><polygon points="186.6,137.8 189.2,139.1 189.2,144.8 186.6,143.6" fill="#ff9900" stroke="#995c00"/><polygon points="186.6,132.1 189.2,133.3 189.2,139.1 186.6,137.8" fill="#8c0008" stroke="#540005"/><polygon points="186.6,126.3 189.2,127.6 189.2,133.3 186.6,132.1" fill="#8c0008" stroke="#540005"/><polygon points="186.6,120.5 189.2,121.8 189.2,127.6 186.6,126.3" fill="#8c0008" stroke="#540005"/><polygon points="186.6,114.8 189.2,116.1 193.7,113.9 191.1,112.6" fill="#8c0008" stroke="#540005"/><polygon points="186.6,114.8 189.2,116.1 189.2,121.8 186.6,120.5" fill="#8c0008" stroke="#540005"/><polygon points="189.2,144.8 191.9,146.1 191.9,151.9 189.2,150.6" fill="#cfff30" stroke="#7c991d"/><polygon points="189.2,139.1 191.9,140.4 191.9,146.1 189.2,144.8" fill="#ff9900" stroke="#995c00"/><polygon points="189.2,133.3 191.9,134.6 191.9,140.4 189.2,139.1" fill="#8c0008" stroke="#540005"/><polygon points="189.2,127.6 191.9,128.9 191.9,134.6 189.2,133.3" fill="#8c0008" stroke="#540005"/><polygon points="189.2,121.8 191.9,123.1 191.9,128.9 189.2,127.6" fill="#8c0008" stroke="#540005"/><polygon points="189.2,116.1 191.9,117.4 196.4,115.2 193.7,113.9" fill="#8c0008" stroke="#540005"/><polygon points="189.2,116.1 191.9,117.4 191.9,123.1 189.2,121.8" fill="#8c0008" stroke="#540005"/><polygon points="191.9,146.1 194.5,147.4 194.5,153.2 191.9,151.9" fill="#c5ff3a" stroke="#769923"/><polygon points="191.9,140.4 194.5,141.7 194.5,147.4 191.9,146.1" fill="#fff300" stroke="#999200"/><polygon points="191.9,134.6 194.5,135.9 194.5,141.7 191.9,140.4" fill="#8c0008" stroke="#540005"/><polygon points="191.9,128.9 194.5,130.2 194.5,135.9 191.9,134.6" fill="#8c0008" stroke="#540005"/><polygon points="191.9,123.1 194.5,124.5 194.5,130.2 191.9,128.9" fill="#8c0008" stroke="#540005"/><polygon points="191.9,117.4 194.5,118.7 199.0,116.5 196.4,115.2" fill="#8c0008" stroke="#540005"/><polygon points="191.9,117.4 194.5,118.7 194.5,124.5 191.9,123.1" fill="#8c0008" stroke="#540005"/><polygon points="194.5,147.4 197.2,148.8 197.2,154.5 194.5,153.2" fill="#93ff6c" stroke="#589941"/><polygon points="194.5,141.7 197.2,143.0 197.2,148.8 194.5,147.4" fill="#fff300" stroke="#999200"/><polygon points="194.5,135.9 197.2,137.2 197.2,143.0 194.5,141.7" fill="#8c0008" stroke="#540005"/><polygon points="194.5,130.2 197.2,131.5 197.2,137.2 194.5,135.9" fill="#8c0008" stroke="#540005"/><polygon points="194.5,124.5 197.2,125.8 197.2,131.5 194.5,130.2" fill="#8c0008" stroke="#540005"/><polygon points="194.5,118.7 197.2,120.0 201.7,117.8 199.0,116.5" fill="#8c0008" stroke="#540005"/><polygon points="194.5,118.7 197.2,120.0 197.2,125.8 194.5,124.5" fill="#8c0008" stroke="#540005"/><polygon points="197.2,148.8 199.8,150.1 199.8,155.8 197.2,154.5" fill="#d9ff26" stroke="#829917"/><polygon points="197.2,143.0 199.8,144.3 199.8,150.1 197.2,148.8" fill="#93ff6c" stroke="#589941"/><polygon points="197.2,137.2 199.8,138.6 199.8,144.3 197.2,143.0" fill="#8c0008" stroke="#540005"/><polygon points="197.2,131.5 199.8,132.8 199.8,138.6 197.2,137.2" fill="#8c0008" stroke="#540005"/><polygon points="197.2,125.8 199.8,127.0 199.8,132.8 197.2,131.5" fill="#8c0008" stroke="#540005"/><polygon points="197.2,120.0 199.8,121.3 204.3,119.1 201.7,117.8" fill="#8c0008" stroke="#540005"/><polygon points="197.2,120.0 199.8,121.3 199.8,127.0 197.2,125.8" fill="#8c0008" stroke="#540005"/><polygon points="199.8,150.1 202.5,151.3 202.5,157.1 199.8,155.8" fill="#fff300" stroke="#999200"/><polygon points="199.8,144.3 202.5,145.6 202.5,151.3 199.8,150.1" fill="#e3ff1c" stroke="#889911"/><polygon points="199.8,138.6 202.5,139.8 202.5,145.6 199.8,144.3" fill="#8c0008" stroke="#540005"/><polygon points="199.8,132.8 202.5,134.1 202.5,139.8 199.8,138.6" fill="#8c0008" stroke="#540005"/><polygon points="199.8,127.0 202.5,128.3 202.5,134.1 199.8,132.8" fill="#8c0008" stroke="#540005"/><polygon points="199.8,121.3 202.5,122.6 207.0,120.4 204.3,119.1" fill="#8c0008" stroke="#540005"/><polygon points="199.8,121.3 202.5,122.6 202.5,128.3 199.8,127.0" fill="#8c0008" stroke="#540005"/><polygon points="202.5,151.3 205.2,152.6 205.2,158.4 202.5,157.1" fill="#bbff44" stroke="#709929"/><polygon points="202.5,145.6 205.2,146.9 205.2,152.6 202.5,151.3" fill="#ff0d00" stroke="#990800"/><polygon points="202.5,139.8 205.2,141.1 205.2,146.9 202.5,145.6" fill="#8c0008" stroke="#540005"/><polygon points="202.5,134.1 205.2,135.4 205.2,141.1 202.5,139.8" fill="#8c0008" stroke="#540005"/><polygon points="202.5,128.3 205.2,129.6 205.2,135.4 202.5,134.1" fill="#8c0008" stroke="#540005"/><polygon points="202.5,122.6 205.2,123.9 209.6,121.7 207.0,120.4" fill="#8c0008" stroke="#540005"/><polygon points="202.5,122.6 205.2,123.9 205.2,129.6 202.5,128.3" fill="#8c0008" stroke="#540005"/><polygon points="205.2,152.6 207.8,153.9 207.8,159.7 205.2,158.4" fill="#bbff44" stroke="#709929"/><polygon points="207.8,153.9 212.3,151.8 212.3,157.6 207.8,159.7" fill="#bbff44" stroke="#709929"/><polygon points="205.2,146.9 207.8,148.2 207.8,153.9 205.2,152.6" fill="#ff5d00" stroke="#993800"/><polygon points="207.8,148.2 212.3,146.1 212.3,151.8 207.8,153.9" fill="#ff5d00" stroke="#993800"/><polygon points="205.2,141.1 207.8,142.4 207.8,148.2 205.2,146.9" fill="#8c0008" stroke="#540005"/><polygon points="207.8,142.4 212.3,140.3 212.3,146.1 207.8,148.2" fill="#8c0008" stroke="#540005"/><polygon points="205.2,135.4 207.8,136.7 207.8,142.4 205.2,141.1" fill="#8c0008" stroke="#540005"/><polygon points="207.8,136.7 212.3,134.6 212.3,140.3 207.8,142.4" fill="#8c0008" stroke="#540005"/><polygon points="205.2,129.6 207.8,130.9 207.8,136.7 205.2,135.4" fill="#8c0008" stroke="#540005"/><polygon points="207.8,130.9 212.3,128.8 212.3,134.6 207.8,136.7" fill="#8c0008" stroke="#540005"/><polygon points="205.2,123.9 207.8,125.2 212.3,123.0 209.6,121.7" fill="#8c0008" stroke="#540005"/><polygon points="205.2,123.9 207.8,125.2 207.8,130.9 205.2,129.6" fill="#8c0008" stroke="#540005"/><polygon points="207.8,125.2 212.3,123.0 212.3,128.8 207.8,130.9" fill="#8c0008" stroke="#540005"/></g>
<g stroke-width="0.45" stroke-linejoin="round"><polygon points="123.8,155.8 126.4,157.1 130.9,154.9 128.2,153.6" fill="#8c0008" stroke="#540005"/><polygon points="126.4,157.1 129.1,158.3 133.5,156.2 130.9,154.9" fill="#8c0008" stroke="#540005"/><polygon points="129.1,158.3 131.7,159.7 136.2,157.5 133.5,156.2" fill="#8c0008" stroke="#540005"/><polygon points="134.4,172.4 138.8,170.3 138.8,176.0 134.4,178.2" fill="#8c0008" stroke="#540005"/><polygon points="131.7,159.7 134.4,160.9 138.8,158.8 136.2,157.5" fill="#8c0008" stroke="#540005"/><polygon points="134.4,155.2 137.0,156.5 141.5,154.3 138.8,153.0" fill="#ff5d00" stroke="#993800"/><polygon points="139.7,169.3 144.1,167.2 144.1,172.9 139.7,175.1" fill="#8c0008" stroke="#540005"/><polygon points="139.7,163.6 144.1,161.4 144.1,167.2 139.7,169.3" fill="#ff2b00" stroke="#991a00"/><polygon points="137.0,156.5 139.7,157.8 144.1,155.7 141.5,154.3" fill="#ff0d00" stroke="#990800"/><polygon points="139.7,157.8 144.1,155.7 144.1,161.4 139.7,163.6" fill="#ff0d00" stroke="#990800"/><polygon points="119.3,157.9 122.0,159.2 126.4,157.1 123.8,155.8" fill="#8c0008" stroke="#540005"/><polygon points="122.0,159.2 124.6,160.5 129.1,158.3 126.4,157.1" fill="#8c0008" stroke="#540005"/><polygon points="124.6,160.5 127.2,161.8 131.7,159.7 129.1,158.3" fill="#8c0008" stroke="#540005"/><polygon points="127.2,161.8 129.9,163.1 134.4,160.9 131.7,159.7" fill="#8c0008" stroke="#540005"/><polygon points="129.9,157.3 132.6,158.7 137.0,156.5 134.4,155.2" fill="#ff7b00" stroke="#994a00"/><polygon points="135.2,183.0 139.7,180.8 139.7,186.6 135.2,188.7" fill="#d9ff26" stroke="#829917"/><polygon points="135.2,177.2 139.7,175.1 139.7,180.8 135.2,183.0" fill="#ff5d00" stroke="#993800"/><polygon points="135.2,171.5 139.7,169.3 139.7,175.1 135.2,177.2" fill="#8c0008" stroke="#540005"/><polygon points="135.2,165.7 139.7,163.6 139.7,169.3 135.2,171.5" fill="#8c0008" stroke="#540005"/><polygon points="132.6,158.7 135.2,160.0 139.7,157.8 137.0,156.5" fill="#ffcb00" stroke="#997a00"/><polygon points="135.2,160.0 139.7,157.8 139.7,163.6 135.2,165.7" fill="#ffcb00" stroke="#997a00"/><polygon points="114.8,160.1 117.5,161.4 122.0,159.2 119.3,157.9" fill="#8c0008" stroke="#540005"/><polygon points="117.5,161.4 120.1,162.7 124.6,160.5 122.0,159.2" fill="#8c0008" stroke="#540005"/><polygon points="120.1,156.9 122.8,158.2 127.2,156.1 124.6,154.8" fill="#8c0008" stroke="#540005"/><polygon points="122.8,158.2 125.4,159.5 129.9,157.3 127.2,156.1" fill="#8c0008" stroke="#540005"/><polygon points="125.4,159.5 128.1,160.8 132.6,158.7 129.9,157.3" fill="#8c0008" stroke="#540005"/><polygon points="130.7,185.1 135.2,183.0 135.2,188.7 130.7,190.9" fill="#fff300" stroke="#999200"/><polygon points="130.7,179.4 135.2,177.2 135.2,183.0 130.7,185.1" fill="#ee0000" stroke="#8f0000"/><polygon points="130.7,173.6 135.2,171.5 135.2,177.2 130.7,179.4" fill="#c60000" stroke="#770000"/><polygon points="130.7,167.9 135.2,165.7 135.2,171.5 130.7,173.6" fill="#8c0008" stroke="#540005"/><polygon points="128.1,160.8 130.7,162.1 135.2,160.0 132.6,158.7" fill="#8c0008" stroke="#540005"/><polygon points="130.7,162.1 135.2,160.0 135.2,165.7 130.7,167.9" fill="#8c0008" stroke="#540005"/><polygon points="110.4,156.5 113.0,157.8 117.5,155.6 114.8,154.3" fill="#8c0008" stroke="#540005"/><polygon points="113.0,157.8 115.7,159.1 120.1,156.9 117.5,155.6" fill="#8c0008" stroke="#540005"/><polygon points="115.7,159.1 118.3,160.4 122.8,158.2 120.1,156.9" fill="#8c0008" stroke="#540005"/><polygon points="118.3,160.4 121.0,161.7 125.4,159.5 122.8,158.2" fill="#8c0008" stroke="#540005"/><polygon points="121.0,161.7 123.6,163.0 128.1,160.8 125.4,159.5" fill="#ff3f00" stroke="#992600"/><polygon points="126.3,187.3 130.7,185.1 130.7,190.9 126.3,193.0" fill="#bbff44" stroke="#709929"/><polygon points="126.3,181.5 130.7,179.4 130.7,185.1 126.3,187.3" fill="#ff5d00" stroke="#993800"/><polygon points="126.3,175.8 130.7,173.6 130.7,179.4 126.3,181.5" fill="#8c0008" stroke="#540005"/><polygon points="126.3,170.0 130.7,167.9 130.7,173.6 126.3,175.8" fill="#8c0008" stroke="#540005"/><polygon points="123.6,163.0 126.3,164.3 130.7,162.1 128.1,160.8" fill="#ee0000" stroke="#8f0000"/><polygon points="126.3,164.3 130.7,162.1 130.7,167.9 126.3,170.0" fill="#ee0000" stroke="#8f0000"/><polygon points="105.9,158.6 108.6,159.9 113.0,157.8 110.4,156.5" fill="#ee0000" stroke="#8f0000"/><polygon points="108.6,159.9 111.2,161.2 115.7,159.1 113.0,157.8" fill="#ff3f00" stroke="#992600"/><polygon points="111.2,161.2 113.9,162.5 118.3,160.4 115.7,159.1" fill="#ee0000" stroke="#8f0000"/><polygon points="113.9,162.5 116.5,163.8 121.0,161.7 118.3,160.4" fill="#ff2100" stroke="#991400"/><polygon points="116.5,163.8 119.2,165.1 123.6,163.0 121.0,161.7" fill="#ff5d00" stroke="#993800"/><polygon points="121.8,189.4 126.3,187.3 126.3,193.0 121.8,195.2" fill="#fff300" stroke="#999200"/><polygon points="121.8,183.7 126.3,181.5 126.3,187.3 121.8,189.4" fill="#ff5d00" stroke="#993800"/><polygon points="121.8,177.9 126.3,175.8 126.3,181.5 121.8,183.7" fill="#8c0008" stroke="#540005"/><polygon points="121.8,172.2 126.3,170.0 126.3,175.8 121.8,177.9" fill="#8c0008" stroke="#540005"/><polygon points="119.2,165.1 121.8,166.4 126.3,164.3 123.6,163.0" fill="#ffad00" stroke="#996800"/><polygon points="121.8,166.4 126.3,164.3 126.3,170.0 121.8,172.2" fill="#ffad00" stroke="#996800"/><polygon points="101.5,160.8 104.1,162.1 108.6,159.9 105.9,158.6" fill="#ff2100" stroke="#991400"/><polygon points="101.5,160.8 104.1,162.1 104.1,167.8 101.5,166.5" fill="#ff2100" stroke="#991400"/><polygon points="104.1,162.1 106.8,163.3 111.2,161.2 108.6,159.9" fill="#c60000" stroke="#770000"/><polygon points="104.1,162.1 106.8,163.3 106.8,169.1 104.1,167.8" fill="#c60000" stroke="#770000"/><polygon points="106.8,163.3 109.4,164.7 113.9,162.5 111.2,161.2" fill="#ff4900" stroke="#992c00"/><polygon points="109.4,164.7 112.1,165.9 116.5,163.8 113.9,162.5" fill="#ff9900" stroke="#995c00"/><polygon points="112.1,165.9 114.7,167.2 119.2,165.1 116.5,163.8" fill="#ffcb00" stroke="#997a00"/><polygon points="117.4,191.6 121.8,189.4 121.8,195.2 117.4,197.3" fill="#d9ff26" stroke="#829917"/><polygon points="117.4,185.8 121.8,183.7 121.8,189.4 117.4,191.6" fill="#d9ff26" stroke="#829917"/><polygon points="117.4,180.1 121.8,177.9 121.8,183.7 117.4,185.8" fill="#8c0008" stroke="#540005"/><polygon points="117.4,174.3 121.8,172.2 121.8,177.9 117.4,180.1" fill="#8c0008" stroke="#540005"/><polygon points="114.7,167.2 117.4,168.6 121.8,166.4 119.2,165.1" fill="#ffcb00" stroke="#997a00"/><polygon points="117.4,168.6 121.8,166.4 121.8,172.2 117.4,174.3" fill="#ffcb00" stroke="#997a00"/><polygon points="97.0,180.2 99.7,181.5 99.7,187.2 97.0,185.9" fill="#fff300" stroke="#999200"/><polygon points="97.0,174.4 99.7,175.7 99.7,181.5 97.0,180.2" fill="#8c0008" stroke="#540005"/><polygon points="97.0,168.7 99.7,170.0 104.1,167.8 101.5,166.5" fill="#8c0008" stroke="#540005"/><polygon points="97.0,168.7 99.7,170.0 99.7,175.7 97.0,174.4" fill="#8c0008" stroke="#540005"/><polygon points="99.7,181.5 102.3,182.8 102.3,188.5 99.7,187.2" fill="#ffc100" stroke="#997400"/><polygon points="99.7,175.7 102.3,177.0 102.3,182.8 99.7,181.5" fill="#8c0008" stroke="#540005"/><polygon points="99.7,170.0 102.3,171.2 106.8,169.1 104.1,167.8" fill="#8c0008" stroke="#540005"/><polygon points="99.7,170.0 102.3,171.2 102.3,177.0 99.7,175.7" fill="#8c0008" stroke="#540005"/><polygon points="102.3,188.5 105.0,189.8 105.0,195.6 102.3,194.2" fill="#fff300" stroke="#999200"/><polygon points="102.3,182.8 105.0,184.1 105.0,189.8 102.3,188.5" fill="#c60000" stroke="#770000"/><polygon points="102.3,177.0 105.0,178.3 105.0,184.1 102.3,182.8" fill="#8c0008" stroke="#540005"/><polygon points="102.3,171.2 105.0,172.6 105.0,178.3 102.3,177.0" fill="#8c0008" stroke="#540005"/><polygon points="102.3,165.5 105.0,166.8 109.4,164.7 106.8,163.3" fill="#ff5d00" stroke="#993800"/><polygon points="102.3,165.5 105.0,166.8 105.0,172.6 102.3,171.2" fill="#ff5d00" stroke="#993800"/><polygon points="105.0,189.8 107.6,191.1 107.6,196.8 105.0,195.6" fill="#fff300" stroke="#999200"/><polygon points="105.0,184.1 107.6,185.3 107.6,191.1 105.0,189.8" fill="#ee0000" stroke="#8f0000"/><polygon points="105.0,178.3 107.6,179.6 107.6,185.3 105.0,184.1" fill="#8c0008" stroke="#540005"/><polygon points="105.0,172.6 107.6,173.8 107.6,179.6 105.0,178.3" fill="#8c0008" stroke="#540005"/><polygon points="105.0,166.8 107.6,168.1 112.1,165.9 109.4,164.7" fill="#ff8f00" stroke="#995600"/><polygon points="105.0,166.8 107.6,168.1 107.6,173.8 105.0,172.6" fill="#ff8f00" stroke="#995600"/><polygon points="107.6,191.1 110.2,192.4 110.2,198.2 107.6,196.8" fill="#ffad00" stroke="#996800"/><polygon points="107.6,185.3 110.2,186.7 110.2,192.4 107.6,191.1" fill="#8c0008" stroke="#540005"/><polygon points="107.6,179.6 110.2,180.9 110.2,186.7 107.6,185.3" fill="#8c0008" stroke="#540005"/><polygon points="107.6,173.8 110.2,175.2 110.2,180.9 107.6,179.6" fill="#8c0008" stroke="#540005"/><polygon points="107.6,168.1 110.2,169.4 114.7,167.2 112.1,165.9" fill="#ff8f00" stroke="#995600"/><polygon points="107.6,168.1 110.2,169.4 110.2,175.2 107.6,173.8" fill="#ff8f00" stroke="#995600"/><polygon points="110.2,192.4 112.9,193.7 112.9,199.5 110.2,198.2" fill="#ff0d00" stroke="#990800"/><polygon points="112.9,193.7 117.4,191.6 117.4,197.3 112.9,199.5" fill="#ff0d00" stroke="#990800"/><polygon points="110.2,186.7 112.9,188.0 112.9,193.7 110.2,192.4" fill="#8c0008" stroke="#540005"/><polygon points="112.9,188.0 117.4,185.8 117.4,191.6 112.9,193.7" fill="#8c0008" stroke="#540005"/><polygon points="110.2,180.9 112.9,182.2 112.9,188.0 110.2,186.7" fill="#8c0008" stroke="#540005"/><polygon points="112.9,182.2 117.4,180.1 117.4,185.8 112.9,188.0" fill="#8c0008" stroke="#540005"/><polygon points="110.2,175.2 112.9,176.5 112.9,182.2 110.2,180.9" fill="#8c0008" stroke="#540005"/><polygon points="112.9,176.5 117.4,174.3 117.4,180.1 112.9,182.2" fill="#8c0008" stroke="#540005"/><polygon points="110.2,169.4 112.9,170.7 117.4,168.6 114.7,167.2" fill="#ff5d00" stroke="#993800"/><polygon points="110.2,169.4 112.9,170.7 112.9,176.5 110.2,175.2" fill="#ff5d00" stroke="#993800"/><polygon points="112.9,170.7 117.4,168.6 117.4,174.3 112.9,176.5" fill="#ff5d00" stroke="#993800"/></g>
<line x1="34.70" y1="112.30" x2="34.70" y2="201.30" stroke="#4a4a4a" stroke-width="0.7"/>
<line x1="34.70" y1="201.30" x2="119.70" y2="243.30" stroke="#4a4a4a" stroke-width="0.7"/>
<line x1="119.70" y1="243.30" x2="263.70" y2="172.60" stroke="#4a4a4a" stroke-width="0.7"/>
<line x1="34.70" y1="112.30" x2="32.50" y2="111.20" stroke="#4a4a4a" stroke-width="0.7"/>
<line x1="34.70" y1="134.19" x2="32.50" y2="133.09" stroke="#4a4a4a" stroke-width="0.7"/>
<line x1="34.70" y1="156.53" x2="32.50" y2="155.43" stroke="#4a4a4a" stroke-width="0.7"/>
<line x1="34.70" y1="178.52" x2="32.50" y2="177.42" stroke="#4a4a4a" stroke-width="0.7"/>
<line x1="34.70" y1="194.00" x2="32.50" y2="192.90" stroke="#4a4a4a" stroke-width="0.7"/>
<line x1="34.70" y1="201.30" x2="32.30" y2="202.50" stroke="#4a4a4a" stroke-width="0.7"/>
<line x1="119.70" y1="243.30" x2="122.10" y2="244.50" stroke="#4a4a4a" stroke-width="0.7"/>
<line x1="55.95" y1="211.80" x2="53.55" y2="213.00" stroke="#4a4a4a" stroke-width="0.7"/>
<line x1="155.70" y1="225.62" x2="158.10" y2="226.82" stroke="#4a4a4a" stroke-width="0.7"/>
<line x1="77.20" y1="222.30" x2="74.80" y2="223.50" stroke="#4a4a4a" stroke-width="0.7"/>
<line x1="191.70" y1="207.95" x2="194.10" y2="209.15" stroke="#4a4a4a" stroke-width="0.7"/>
<line x1="98.45" y1="232.80" x2="96.05" y2="234.00" stroke="#4a4a4a" stroke-width="0.7"/>
<line x1="227.70" y1="190.28" x2="230.10" y2="191.47" stroke="#4a4a4a" stroke-width="0.7"/>
<line x1="119.70" y1="243.30" x2="117.30" y2="244.50" stroke="#4a4a4a" stroke-width="0.7"/>
<line x1="263.70" y1="172.60" x2="266.10" y2="173.80" stroke="#4a4a4a" stroke-width="0.7"/>
<g font-family="Liberation Serif, serif" font-weight="bold" fill="#161616">
<text x="29.20" y="110.40" font-size="10" text-anchor="end" dominant-baseline="central" >0</text>
<text x="29.20" y="133.70" font-size="10" text-anchor="end" dominant-baseline="central" >0.4</text>
<text x="29.20" y="155.30" font-size="10" text-anchor="end" dominant-baseline="central" >0.8</text>
<text x="29.20" y="177.00" font-size="10" text-anchor="end" dominant-baseline="central" >1.2</text>
<text x="29.20" y="193.80" font-size="10" text-anchor="end" dominant-baseline="central" >1.6</text>
<text x="25.60" y="210.60" font-size="9.8" text-anchor="middle" dominant-baseline="central" >0</text>
<text x="41.60" y="221.20" font-size="9.8" text-anchor="middle" dominant-baseline="central" >0.74</text>
<text x="63.30" y="232.20" font-size="9.8" text-anchor="middle" dominant-baseline="central" >1.49</text>
<text x="84.10" y="242.80" font-size="9.8" text-anchor="middle" dominant-baseline="central" >2.23</text>
<text x="102.70" y="252.20" font-size="9.8" text-anchor="middle" dominant-baseline="central" >2.98</text>
<text x="129.20" y="253.00" font-size="9.8" text-anchor="middle" dominant-baseline="central" >0</text>
<text x="171.20" y="235.40" font-size="9.8" text-anchor="middle" dominant-baseline="central" >1.25</text>
<text x="207.40" y="216.90" font-size="9.8" text-anchor="middle" dominant-baseline="central" >2.51</text>
<text x="243.50" y="198.30" font-size="9.8" text-anchor="middle" dominant-baseline="central" >3.76</text>
<text x="273.80" y="183.50" font-size="9.8" text-anchor="middle" dominant-baseline="central" >5.02</text>
<text x="48.90" y="256.30" font-size="11.4" text-anchor="middle" dominant-baseline="central" >X/(km)</text>
<text x="206.80" y="249.00" font-size="11.4" text-anchor="middle" dominant-baseline="central" >Y/(km)</text>
<text x="9.60" y="157.30" font-size="11.6" text-anchor="middle" dominant-baseline="central" transform="rotate(-90 9.6 157.3)" >Z/(km)</text>
<text x="300.00" y="33.50" font-size="8.9" text-anchor="middle" dominant-baseline="central" >SI</text>
<text x="307.60" y="41.90" font-size="8.7" text-anchor="start" dominant-baseline="central" >0.1</text>
<text x="307.60" y="82.35" font-size="8.7" text-anchor="start" dominant-baseline="central" >0.08</text>
<text x="307.60" y="122.80" font-size="8.7" text-anchor="start" dominant-baseline="central" >0.06</text>
<text x="307.60" y="163.25" font-size="8.7" text-anchor="start" dominant-baseline="central" >0.04</text>
<text x="307.60" y="203.70" font-size="8.7" text-anchor="start" dominant-baseline="central" >0.02</text>
<text x="307.60" y="244.15" font-size="8.7" text-anchor="start" dominant-baseline="central" >0</text>
<text y="12.30" font-size="19.3" text-anchor="middle" xml:space="preserve"><tspan x="20.40" dominant-baseline="central">(</tspan><tspan x="35.70" y="19.00" font-size="21.5"> a </tspan><tspan x="50.40" y="12.30" dominant-baseline="central">)</tspan></text>
</g>
<rect x="296.00" y="41.40" width="8.60" height="6.63" fill="#8f0000"/>
<rect x="296.00" y="47.73" width="8.60" height="6.63" fill="#cc0a0d"/>
<rect x="296.00" y="54.06" width="8.60" height="6.63" fill="#db0d0f"/>
<rect x="296.00" y="60.39" width="8.60" height="6.63" fill="#ed0d0d"/>
<rect x="296.00" y="66.72" width="8.60" height="6.63" fill="#ff0d0d"/>
<rect x="296.00" y="73.06" width="8.60" height="6.63" fill="#ff3000"/>
<rect x="296.00" y="79.39" width="8.60" height="6.63" fill="#ff5000"/>
<rect x="296.00" y="85.72" width="8.60" height="6.63" fill="#ff7000"/>
<rect x="296.00" y="92.05" width="8.60" height="6.63" fill="#ff8f00"/>
<rect x="296.00" y="98.38" width="8.60" height="6.63" fill="#ffaf00"/>
<rect x="296.00" y="104.71" width="8.60" height="6.63" fill="#ffcf00"/>
<rect x="296.00" y="111.04" width="8.60" height="6.63" fill="#ffef00"/>
<rect x="296.00" y="117.38" width="8.60" height="6.63" fill="#efff10"/>
<rect x="296.00" y="123.71" width="8.60" height="6.63" fill="#cfff30"/>
<rect x="296.00" y="130.04" width="8.60" height="6.63" fill="#afff50"/>
<rect x="296.00" y="136.37" width="8.60" height="6.63" fill="#8fff70"/>
<rect x="296.00" y="142.70" width="8.60" height="6.63" fill="#70ff8f"/>
<rect x="296.00" y="149.03" width="8.60" height="6.63" fill="#50ffaf"/>
<rect x="296.00" y="155.36" width="8.60" height="6.63" fill="#30ffcf"/>
<rect x="296.00" y="161.69" width="8.60" height="6.63" fill="#10ffef"/>
<rect x="296.00" y="168.03" width="8.60" height="6.63" fill="#00efff"/>
<rect x="296.00" y="174.36" width="8.60" height="6.63" fill="#00cfff"/>
<rect x="296.00" y="180.69" width="8.60" height="6.63" fill="#00afff"/>
<rect x="296.00" y="187.02" width="8.60" height="6.63" fill="#008fff"/>
<rect x="296.00" y="193.35" width="8.60" height="6.63" fill="#0070ff"/>
<rect x="296.00" y="199.68" width="8.60" height="6.63" fill="#0050ff"/>
<rect x="296.00" y="206.01" width="8.60" height="6.63" fill="#0030ff"/>
<rect x="296.00" y="212.34" width="8.60" height="6.63" fill="#0010ff"/>
<rect x="296.00" y="218.68" width="8.60" height="6.63" fill="#0000ef"/>
<rect x="296.00" y="225.01" width="8.60" height="6.63" fill="#0000cf"/>
<rect x="296.00" y="231.34" width="8.60" height="6.63" fill="#0000af"/>
<rect x="296.00" y="237.67" width="8.60" height="6.63" fill="#00008f"/>
<line x1="70.70" y1="381.62" x2="70.70" y2="470.62" stroke="#dcdcdc" stroke-width="0.6"/>
<line x1="70.70" y1="470.62" x2="155.70" y2="512.62" stroke="#dcdcdc" stroke-width="0.6"/>
<line x1="55.95" y1="498.80" x2="199.95" y2="428.10" stroke="#dcdcdc" stroke-width="0.6"/>
<line x1="199.95" y1="339.10" x2="199.95" y2="428.10" stroke="#dcdcdc" stroke-width="0.6"/>
<line x1="106.70" y1="363.95" x2="106.70" y2="452.95" stroke="#dcdcdc" stroke-width="0.6"/>
<line x1="106.70" y1="452.95" x2="191.70" y2="494.95" stroke="#dcdcdc" stroke-width="0.6"/>
<line x1="77.20" y1="509.30" x2="221.20" y2="438.60" stroke="#dcdcdc" stroke-width="0.6"/>
<line x1="221.20" y1="349.60" x2="221.20" y2="438.60" stroke="#dcdcdc" stroke-width="0.6"/>
<line x1="142.70" y1="346.27" x2="142.70" y2="435.27" stroke="#dcdcdc" stroke-width="0.6"/>
<line x1="142.70" y1="435.27" x2="227.70" y2="477.27" stroke="#dcdcdc" stroke-width="0.6"/>
<line x1="98.45" y1="519.80" x2="242.45" y2="449.10" stroke="#dcdcdc" stroke-width="0.6"/>
<line x1="242.45" y1="360.10" x2="242.45" y2="449.10" stroke="#dcdcdc" stroke-width="0.6"/>
<line x1="34.70" y1="421.19" x2="178.70" y2="350.49" stroke="#dcdcdc" stroke-width="0.6"/>
<line x1="178.70" y1="350.49" x2="263.70" y2="392.49" stroke="#dcdcdc" stroke-width="0.6"/>
<line x1="34.70" y1="443.53" x2="178.70" y2="372.83" stroke="#dcdcdc" stroke-width="0.6"/>
<line x1="178.70" y1="372.83" x2="263.70" y2="414.83" stroke="#dcdcdc" stroke-width="0.6"/>
<line x1="34.70" y1="465.52" x2="178.70" y2="394.82" stroke="#dcdcdc" stroke-width="0.6"/>
<line x1="178.70" y1="394.82" x2="263.70" y2="436.82" stroke="#dcdcdc" stroke-width="0.6"/>
<line x1="34.70" y1="481.00" x2="178.70" y2="410.30" stroke="#dcdcdc" stroke-width="0.6"/>
<line x1="178.70" y1="410.30" x2="263.70" y2="452.30" stroke="#dcdcdc" stroke-width="0.6"/>
<line x1="34.70" y1="399.30" x2="178.70" y2="328.60" stroke="#858585" stroke-width="0.7"/>
<line x1="178.70" y1="328.60" x2="263.70" y2="370.60" stroke="#858585" stroke-width="0.7"/>
<line x1="263.70" y1="370.60" x2="263.70" y2="459.60" stroke="#858585" stroke-width="0.7"/>
<line x1="178.70" y1="328.60" x2="178.70" y2="417.60" stroke="#858585" stroke-width="0.7"/>
<line x1="178.70" y1="417.60" x2="34.70" y2="488.30" stroke="#858585" stroke-width="0.7"/>
<line x1="178.70" y1="417.60" x2="263.70" y2="459.60" stroke="#858585" stroke-width="0.7"/>
<g stroke-width="0.45" stroke-linejoin="round"><polygon points="148.6,381.9 151.3,383.2 155.8,381.1 153.1,379.8" fill="#8c0008" stroke="#540005"/><polygon points="151.3,383.2 153.9,384.5 158.4,382.4 155.8,381.1" fill="#8c0008" stroke="#540005"/><polygon points="153.9,384.5 156.6,385.8 161.1,383.6 158.4,382.4" fill="#8c0008" stroke="#540005"/><polygon points="156.6,385.8 159.2,387.1 163.7,384.9 161.1,383.6" fill="#8c0008" stroke="#540005"/><polygon points="159.2,381.3 161.9,382.6 166.4,380.5 163.7,379.2" fill="#8c0008" stroke="#540005"/><polygon points="161.9,382.6 164.5,383.9 169.0,381.8 166.4,380.5" fill="#8c0008" stroke="#540005"/><polygon points="164.5,383.9 167.2,385.2 171.7,383.1 169.0,381.8" fill="#cfff30" stroke="#7c991d"/><polygon points="169.8,403.8 174.3,401.6 174.3,407.4 169.8,409.5" fill="#c5ff3a" stroke="#769923"/><polygon points="169.8,398.0 174.3,395.9 174.3,401.6 169.8,403.8" fill="#ff5d00" stroke="#993800"/><polygon points="169.8,392.3 174.3,390.1 174.3,395.9 169.8,398.0" fill="#62ff9d" stroke="#3b995e"/><polygon points="167.2,385.2 169.8,386.5 174.3,384.4 171.7,383.1" fill="#cfff30" stroke="#7c991d"/><polygon points="169.8,386.5 174.3,384.4 174.3,390.1 169.8,392.3" fill="#cfff30" stroke="#7c991d"/><polygon points="144.2,384.1 146.8,385.4 151.3,383.2 148.6,381.9" fill="#8c0008" stroke="#540005"/><polygon points="146.8,385.4 149.5,386.7 153.9,384.5 151.3,383.2" fill="#8c0008" stroke="#540005"/><polygon points="149.5,375.2 152.1,376.4 156.6,374.3 153.9,373.0" fill="#ffa300" stroke="#996200"/><polygon points="152.1,376.4 154.8,377.8 159.2,375.6 156.6,374.3" fill="#fff300" stroke="#999200"/><polygon points="154.8,377.8 159.2,375.6 159.2,381.3 154.8,383.5" fill="#fff300" stroke="#999200"/><polygon points="154.8,383.5 157.4,384.8 161.9,382.6 159.2,381.3" fill="#8c0008" stroke="#540005"/><polygon points="157.4,384.8 160.1,386.1 164.5,383.9 161.9,382.6" fill="#8c0008" stroke="#540005"/><polygon points="160.1,386.1 162.7,387.4 167.2,385.2 164.5,383.9" fill="#ff5d00" stroke="#993800"/><polygon points="160.1,386.1 162.7,387.4 162.7,393.2 160.1,391.9" fill="#ff5d00" stroke="#993800"/><polygon points="165.4,405.9 169.8,403.8 169.8,409.5 165.4,411.7" fill="#ff8f00" stroke="#995600"/><polygon points="165.4,400.2 169.8,398.0 169.8,403.8 165.4,405.9" fill="#ff5d00" stroke="#993800"/><polygon points="165.4,394.4 169.8,392.3 169.8,398.0 165.4,400.2" fill="#fff300" stroke="#999200"/><polygon points="162.7,387.4 165.4,388.7 169.8,386.5 167.2,385.2" fill="#ff0d00" stroke="#990800"/><polygon points="162.7,387.4 165.4,388.7 165.4,394.4 162.7,393.2" fill="#ff0d00" stroke="#990800"/><polygon points="165.4,388.7 169.8,386.5 169.8,392.3 165.4,394.4" fill="#ff0d00" stroke="#990800"/><polygon points="139.7,380.4 142.4,381.8 146.8,379.6 144.2,378.3" fill="#8c0008" stroke="#540005"/><polygon points="142.4,381.8 145.0,383.1 149.5,380.9 146.8,379.6" fill="#8c0008" stroke="#540005"/><polygon points="145.0,377.3 147.7,378.6 152.1,376.4 149.5,375.2" fill="#ee0000" stroke="#8f0000"/><polygon points="145.0,377.3 147.7,378.6 147.7,384.3 145.0,383.1" fill="#ee0000" stroke="#8f0000"/><polygon points="147.7,378.6 150.3,379.9 154.8,377.8 152.1,376.4" fill="#ff3f00" stroke="#992600"/><polygon points="147.7,378.6 150.3,379.9 150.3,385.6 147.7,384.3" fill="#ff3f00" stroke="#992600"/><polygon points="150.3,379.9 154.8,377.8 154.8,383.5 150.3,385.6" fill="#ff3f00" stroke="#992600"/><polygon points="150.3,385.6 153.0,386.9 157.4,384.8 154.8,383.5" fill="#8c0008" stroke="#540005"/><polygon points="150.3,385.6 153.0,386.9 153.0,392.7 150.3,391.4" fill="#8c0008" stroke="#540005"/><polygon points="153.0,386.9 155.6,388.2 160.1,386.1 157.4,384.8" fill="#8c0008" stroke="#540005"/><polygon points="153.0,386.9 155.6,388.2 155.6,394.0 153.0,392.7" fill="#8c0008" stroke="#540005"/><polygon points="155.6,388.2 160.1,386.1 160.1,391.9 155.6,394.0" fill="#8c0008" stroke="#540005"/><polygon points="155.6,394.0 158.3,395.3 162.7,393.2 160.1,391.9" fill="#ee0000" stroke="#8f0000"/><polygon points="160.9,408.1 165.4,405.9 165.4,411.7 160.9,413.8" fill="#fff300" stroke="#999200"/><polygon points="160.9,402.3 165.4,400.2 165.4,405.9 160.9,408.1" fill="#ffa300" stroke="#996200"/><polygon points="158.3,395.3 160.9,396.6 165.4,394.4 162.7,393.2" fill="#ff2100" stroke="#991400"/><polygon points="160.9,396.6 165.4,394.4 165.4,400.2 160.9,402.3" fill="#ff2100" stroke="#991400"/><polygon points="135.3,382.6 137.9,383.9 142.4,381.8 139.7,380.4" fill="#ee0000" stroke="#8f0000"/><polygon points="135.3,382.6 137.9,383.9 137.9,389.7 135.3,388.4" fill="#ee0000" stroke="#8f0000"/><polygon points="137.9,383.9 140.6,385.2 145.0,383.1 142.4,381.8" fill="#c60000" stroke="#770000"/><polygon points="137.9,383.9 140.6,385.2 140.6,391.0 137.9,389.7" fill="#c60000" stroke="#770000"/><polygon points="140.6,385.2 143.2,386.5 147.7,384.3 145.0,383.1" fill="#ff2100" stroke="#991400"/><polygon points="140.6,385.2 143.2,386.5 143.2,392.2 140.6,391.0" fill="#ff2100" stroke="#991400"/><polygon points="143.2,386.5 145.9,387.8 150.3,385.6 147.7,384.3" fill="#ee0000" stroke="#8f0000"/><polygon points="143.2,386.5 145.9,387.8 145.9,393.6 143.2,392.2" fill="#ee0000" stroke="#8f0000"/><polygon points="145.9,387.8 150.3,385.6 150.3,391.4 145.9,393.6" fill="#ee0000" stroke="#8f0000"/><polygon points="145.9,393.6 148.5,394.9 153.0,392.7 150.3,391.4" fill="#8c0008" stroke="#540005"/><polygon points="148.5,394.9 151.2,396.2 155.6,394.0 153.0,392.7" fill="#8c0008" stroke="#540005"/><polygon points="151.2,407.7 153.8,409.0 153.8,414.7 151.2,413.4" fill="#ff0d00" stroke="#990800"/><polygon points="151.2,396.2 153.8,397.5 158.3,395.3 155.6,394.0" fill="#8c0008" stroke="#540005"/><polygon points="153.8,409.0 156.5,410.2 156.5,416.0 153.8,414.7" fill="#ff2b00" stroke="#991a00"/><polygon points="156.5,410.2 160.9,408.1 160.9,413.8 156.5,416.0" fill="#ff2b00" stroke="#991a00"/><polygon points="156.5,404.5 160.9,402.3 160.9,408.1 156.5,410.2" fill="#8c0008" stroke="#540005"/><polygon points="153.8,397.5 156.5,398.8 160.9,396.6 158.3,395.3" fill="#8c0008" stroke="#540005"/><polygon points="156.5,398.8 160.9,396.6 160.9,402.3 156.5,404.5" fill="#8c0008" stroke="#540005"/><polygon points="130.8,396.2 133.5,397.6 133.5,403.3 130.8,402.0" fill="#8c0008" stroke="#540005"/><polygon points="130.8,390.5 133.5,391.8 137.9,389.7 135.3,388.4" fill="#8c0008" stroke="#540005"/><polygon points="130.8,390.5 133.5,391.8 133.5,397.6 130.8,396.2" fill="#8c0008" stroke="#540005"/><polygon points="133.5,397.6 136.1,398.9 136.1,404.6 133.5,403.3" fill="#8c0008" stroke="#540005"/><polygon points="133.5,391.8 136.1,393.1 140.6,391.0 137.9,389.7" fill="#8c0008" stroke="#540005"/><polygon points="133.5,391.8 136.1,393.1 136.1,398.9 133.5,397.6" fill="#8c0008" stroke="#540005"/><polygon points="136.1,404.6 138.8,405.9 138.8,411.6 136.1,410.4" fill="#ff5d00" stroke="#993800"/><polygon points="136.1,398.9 138.8,400.1 138.8,405.9 136.1,404.6" fill="#8c0008" stroke="#540005"/><polygon points="136.1,393.1 138.8,394.4 143.2,392.2 140.6,391.0" fill="#8c0008" stroke="#540005"/><polygon points="136.1,393.1 138.8,394.4 138.8,400.1 136.1,398.9" fill="#8c0008" stroke="#540005"/><polygon points="138.8,405.9 141.4,407.2 141.4,412.9 138.8,411.6" fill="#ffad00" stroke="#996800"/><polygon points="138.8,400.1 141.4,401.4 141.4,407.2 138.8,405.9" fill="#8c0008" stroke="#540005"/><polygon points="138.8,394.4 141.4,395.7 145.9,393.6 143.2,392.2" fill="#8c0008" stroke="#540005"/><polygon points="138.8,394.4 141.4,395.7 141.4,401.4 138.8,400.1" fill="#8c0008" stroke="#540005"/><polygon points="141.4,407.2 144.1,408.5 144.1,414.2 141.4,412.9" fill="#ff5d00" stroke="#993800"/><polygon points="141.4,401.4 144.1,402.8 144.1,408.5 141.4,407.2" fill="#8c0008" stroke="#540005"/><polygon points="141.4,395.7 144.1,397.0 148.5,394.9 145.9,393.6" fill="#ff2b00" stroke="#991a00"/><polygon points="141.4,395.7 144.1,397.0 144.1,402.8 141.4,401.4" fill="#ff2b00" stroke="#991a00"/><polygon points="144.1,408.5 146.7,409.8 146.7,415.6 144.1,414.2" fill="#ff2b00" stroke="#991a00"/><polygon points="146.7,409.8 151.2,407.7 151.2,413.4 146.7,415.6" fill="#ff2b00" stroke="#991a00"/><polygon points="144.1,402.8 146.7,404.1 146.7,409.8 144.1,408.5" fill="#8c0008" stroke="#540005"/><polygon points="144.1,397.0 146.7,398.3 151.2,396.2 148.5,394.9" fill="#ff5d00" stroke="#993800"/><polygon points="144.1,397.0 146.7,398.3 146.7,404.1 144.1,402.8" fill="#ff5d00" stroke="#993800"/><polygon points="146.7,404.1 149.4,405.4 149.4,411.1 146.7,409.8" fill="#8c0008" stroke="#540005"/><polygon points="146.7,398.3 149.4,399.6 153.8,397.5 151.2,396.2" fill="#8c0008" stroke="#540005"/><polygon points="146.7,398.3 149.4,399.6 149.4,405.4 146.7,404.1" fill="#8c0008" stroke="#540005"/><polygon points="149.4,405.4 152.0,406.6 152.0,412.4 149.4,411.1" fill="#8c0008" stroke="#540005"/><polygon points="152.0,406.6 156.5,404.5 156.5,410.2 152.0,412.4" fill="#8c0008" stroke="#540005"/><polygon points="149.4,399.6 152.0,400.9 156.5,398.8 153.8,397.5" fill="#8c0008" stroke="#540005"/><polygon points="149.4,399.6 152.0,400.9 152.0,406.6 149.4,405.4" fill="#8c0008" stroke="#540005"/><polygon points="152.0,400.9 156.5,398.8 156.5,404.5 152.0,406.6" fill="#8c0008" stroke="#540005"/></g>
<g stroke-width="0.45" stroke-linejoin="round"><polygon points="83.6,401.1 86.3,402.4 90.7,400.2 88.1,398.9" fill="#8c0008" stroke="#540005"/><polygon points="86.3,402.4 88.9,403.7 93.4,401.5 90.7,400.2" fill="#8c0008" stroke="#540005"/><polygon points="88.9,403.7 91.6,404.9 96.0,402.8 93.4,401.5" fill="#8c0008" stroke="#540005"/><polygon points="91.6,404.9 94.2,406.2 98.7,404.1 96.0,402.8" fill="#8c0008" stroke="#540005"/><polygon points="94.2,406.2 96.9,407.6 101.3,405.4 98.7,404.1" fill="#8c0008" stroke="#540005"/><polygon points="96.9,407.6 99.5,408.9 104.0,406.7 101.3,405.4" fill="#8c0008" stroke="#540005"/><polygon points="99.5,408.9 102.2,410.2 106.6,408.0 104.0,406.7" fill="#8c0008" stroke="#540005"/><polygon points="104.8,428.7 109.3,426.6 109.3,432.3 104.8,434.4" fill="#8c0008" stroke="#540005"/><polygon points="104.8,422.9 109.3,420.8 109.3,426.6 104.8,428.7" fill="#8c0008" stroke="#540005"/><polygon points="104.8,417.2 109.3,415.1 109.3,420.8 104.8,422.9" fill="#8c0008" stroke="#540005"/><polygon points="102.2,410.2 104.8,411.4 109.3,409.3 106.6,408.0" fill="#8c0008" stroke="#540005"/><polygon points="104.8,411.4 109.3,409.3 109.3,415.1 104.8,417.2" fill="#8c0008" stroke="#540005"/><polygon points="79.2,403.2 81.8,404.5 86.3,402.4 83.6,401.1" fill="#8c0008" stroke="#540005"/><polygon points="81.8,404.5 84.5,405.8 88.9,403.7 86.3,402.4" fill="#8c0008" stroke="#540005"/><polygon points="84.5,405.8 87.1,407.1 91.6,404.9 88.9,403.7" fill="#8c0008" stroke="#540005"/><polygon points="87.1,407.1 89.8,408.4 94.2,406.2 91.6,404.9" fill="#8c0008" stroke="#540005"/><polygon points="89.8,408.4 92.4,409.7 96.9,407.6 94.2,406.2" fill="#8c0008" stroke="#540005"/><polygon points="92.4,409.7 95.1,411.0 99.5,408.9 96.9,407.6" fill="#8c0008" stroke="#540005"/><polygon points="95.1,411.0 97.7,412.3 102.2,410.2 99.5,408.9" fill="#8c0008" stroke="#540005"/><polygon points="100.4,430.9 104.8,428.7 104.8,434.4 100.4,436.6" fill="#8c0008" stroke="#540005"/><polygon points="100.4,425.1 104.8,422.9 104.8,428.7 100.4,430.9" fill="#8c0008" stroke="#540005"/><polygon points="100.4,419.4 104.8,417.2 104.8,422.9 100.4,425.1" fill="#8c0008" stroke="#540005"/><polygon points="97.7,412.3 100.4,413.6 104.8,411.4 102.2,410.2" fill="#8c0008" stroke="#540005"/><polygon points="100.4,413.6 104.8,411.4 104.8,417.2 100.4,419.4" fill="#8c0008" stroke="#540005"/><polygon points="74.7,405.4 77.3,406.7 81.8,404.5 79.2,403.2" fill="#8c0008" stroke="#540005"/><polygon points="77.3,406.7 80.0,408.0 84.5,405.8 81.8,404.5" fill="#8c0008" stroke="#540005"/><polygon points="80.0,408.0 82.6,409.2 87.1,407.1 84.5,405.8" fill="#8c0008" stroke="#540005"/><polygon points="82.6,409.2 85.3,410.6 89.8,408.4 87.1,407.1" fill="#8c0008" stroke="#540005"/><polygon points="85.3,410.6 88.0,411.9 92.4,409.7 89.8,408.4" fill="#8c0008" stroke="#540005"/><polygon points="88.0,411.9 90.6,413.2 95.1,411.0 92.4,409.7" fill="#8c0008" stroke="#540005"/><polygon points="90.6,413.2 93.2,414.5 97.7,412.3 95.1,411.0" fill="#8c0008" stroke="#540005"/><polygon points="95.9,433.0 100.4,430.9 100.4,436.6 95.9,438.8" fill="#8c0008" stroke="#540005"/><polygon points="95.9,427.2 100.4,425.1 100.4,430.9 95.9,433.0" fill="#8c0008" stroke="#540005"/><polygon points="95.9,421.5 100.4,419.4 100.4,425.1 95.9,427.2" fill="#8c0008" stroke="#540005"/><polygon points="93.2,414.5 95.9,415.8 100.4,413.6 97.7,412.3" fill="#8c0008" stroke="#540005"/><polygon points="95.9,415.8 100.4,413.6 100.4,419.4 95.9,421.5" fill="#8c0008" stroke="#540005"/><polygon points="70.2,407.5 72.9,408.8 77.3,406.7 74.7,405.4" fill="#8c0008" stroke="#540005"/><polygon points="72.9,408.8 75.5,410.1 80.0,408.0 77.3,406.7" fill="#8c0008" stroke="#540005"/><polygon points="75.5,410.1 78.2,411.4 82.6,409.2 80.0,408.0" fill="#8c0008" stroke="#540005"/><polygon points="78.2,411.4 80.8,412.7 85.3,410.6 82.6,409.2" fill="#8c0008" stroke="#540005"/><polygon points="80.8,412.7 83.5,414.0 88.0,411.9 85.3,410.6" fill="#8c0008" stroke="#540005"/><polygon points="83.5,414.0 86.1,415.3 90.6,413.2 88.0,411.9" fill="#8c0008" stroke="#540005"/><polygon points="86.1,415.3 88.8,416.6 93.2,414.5 90.6,413.2" fill="#8c0008" stroke="#540005"/><polygon points="91.4,435.1 95.9,433.0 95.9,438.8 91.4,440.9" fill="#8c0008" stroke="#540005"/><polygon points="91.4,429.4 95.9,427.2 95.9,433.0 91.4,435.1" fill="#8c0008" stroke="#540005"/><polygon points="91.4,423.6 95.9,421.5 95.9,427.2 91.4,429.4" fill="#8c0008" stroke="#540005"/><polygon points="88.8,416.6 91.4,417.9 95.9,415.8 93.2,414.5" fill="#8c0008" stroke="#540005"/><polygon points="91.4,417.9 95.9,415.8 95.9,421.5 91.4,423.6" fill="#8c0008" stroke="#540005"/><polygon points="65.8,409.7 68.4,411.0 72.9,408.8 70.2,407.5" fill="#8c0008" stroke="#540005"/><polygon points="68.4,411.0 71.1,412.3 75.5,410.1 72.9,408.8" fill="#8c0008" stroke="#540005"/><polygon points="71.1,412.3 73.7,413.6 78.2,411.4 75.5,410.1" fill="#8c0008" stroke="#540005"/><polygon points="73.7,413.6 76.4,414.9 80.8,412.7 78.2,411.4" fill="#ff5d00" stroke="#993800"/><polygon points="76.4,414.9 79.0,416.2 83.5,414.0 80.8,412.7" fill="#ee0000" stroke="#8f0000"/><polygon points="79.0,416.2 81.7,417.5 86.1,415.3 83.5,414.0" fill="#ee0000" stroke="#8f0000"/><polygon points="81.7,417.5 84.3,418.8 88.8,416.6 86.1,415.3" fill="#8c0008" stroke="#540005"/><polygon points="87.0,437.3 91.4,435.1 91.4,440.9 87.0,443.1" fill="#8c0008" stroke="#540005"/><polygon points="87.0,431.6 91.4,429.4 91.4,435.1 87.0,437.3" fill="#8c0008" stroke="#540005"/><polygon points="87.0,425.8 91.4,423.6 91.4,429.4 87.0,431.6" fill="#8c0008" stroke="#540005"/><polygon points="84.3,418.8 87.0,420.1 91.4,417.9 88.8,416.6" fill="#8c0008" stroke="#540005"/><polygon points="87.0,420.1 91.4,417.9 91.4,423.6 87.0,425.8" fill="#8c0008" stroke="#540005"/><polygon points="61.3,411.8 64.0,413.1 68.4,411.0 65.8,409.7" fill="#8c0008" stroke="#540005"/><polygon points="64.0,413.1 66.6,414.4 71.1,412.3 68.4,411.0" fill="#8c0008" stroke="#540005"/><polygon points="66.6,414.4 69.3,415.7 73.7,413.6 71.1,412.3" fill="#8c0008" stroke="#540005"/><polygon points="69.3,415.7 71.9,417.0 76.4,414.9 73.7,413.6" fill="#8c0008" stroke="#540005"/><polygon points="71.9,417.0 74.6,418.3 79.0,416.2 76.4,414.9" fill="#8c0008" stroke="#540005"/><polygon points="74.6,418.3 77.2,419.6 81.7,417.5 79.0,416.2" fill="#8c0008" stroke="#540005"/><polygon points="77.2,419.6 79.9,420.9 84.3,418.8 81.7,417.5" fill="#8c0008" stroke="#540005"/><polygon points="82.5,439.4 87.0,437.3 87.0,443.1 82.5,445.2" fill="#8c0008" stroke="#540005"/><polygon points="82.5,433.7 87.0,431.6 87.0,437.3 82.5,439.4" fill="#8c0008" stroke="#540005"/><polygon points="82.5,427.9 87.0,425.8 87.0,431.6 82.5,433.7" fill="#8c0008" stroke="#540005"/><polygon points="79.9,420.9 82.5,422.2 87.0,420.1 84.3,418.8" fill="#8c0008" stroke="#540005"/><polygon points="82.5,422.2 87.0,420.1 87.0,425.8 82.5,427.9" fill="#8c0008" stroke="#540005"/><polygon points="56.9,414.0 59.5,415.3 64.0,413.1 61.3,411.8" fill="#8c0008" stroke="#540005"/><polygon points="59.5,415.3 62.2,416.6 66.6,414.4 64.0,413.1" fill="#8c0008" stroke="#540005"/><polygon points="62.2,416.6 64.8,417.9 69.3,415.7 66.6,414.4" fill="#8c0008" stroke="#540005"/><polygon points="64.8,417.9 67.5,419.2 71.9,417.0 69.3,415.7" fill="#8c0008" stroke="#540005"/><polygon points="67.5,419.2 70.1,420.5 74.6,418.3 71.9,417.0" fill="#8c0008" stroke="#540005"/><polygon points="70.1,420.5 72.8,421.8 77.2,419.6 74.6,418.3" fill="#8c0008" stroke="#540005"/><polygon points="72.8,421.8 75.4,423.1 79.9,420.9 77.2,419.6" fill="#8c0008" stroke="#540005"/><polygon points="78.1,441.6 82.5,439.4 82.5,445.2 78.1,447.4" fill="#8c0008" stroke="#540005"/><polygon points="78.1,435.9 82.5,433.7 82.5,439.4 78.1,441.6" fill="#8c0008" stroke="#540005"/><polygon points="78.1,430.1 82.5,427.9 82.5,433.7 78.1,435.9" fill="#8c0008" stroke="#540005"/><polygon points="75.4,423.1 78.1,424.4 82.5,422.2 79.9,420.9" fill="#8c0008" stroke="#540005"/><polygon points="78.1,424.4 82.5,422.2 82.5,427.9 78.1,430.1" fill="#8c0008" stroke="#540005"/><polygon points="52.4,433.4 55.0,434.7 55.0,440.4 52.4,439.1" fill="#93ff6c" stroke="#589941"/><polygon points="52.4,427.6 55.0,428.9 55.0,434.7 52.4,433.4" fill="#ee0000" stroke="#8f0000"/><polygon points="52.4,421.9 55.0,423.2 55.0,428.9 52.4,427.6" fill="#8c0008" stroke="#540005"/><polygon points="52.4,416.1 55.0,417.4 59.5,415.3 56.9,414.0" fill="#8c0008" stroke="#540005"/><polygon points="52.4,416.1 55.0,417.4 55.0,423.2 52.4,421.9" fill="#8c0008" stroke="#540005"/><polygon points="55.0,434.7 57.7,436.0 57.7,441.7 55.0,440.4" fill="#8c0008" stroke="#540005"/><polygon points="55.0,428.9 57.7,430.2 57.7,436.0 55.0,434.7" fill="#8c0008" stroke="#540005"/><polygon points="55.0,423.2 57.7,424.5 57.7,430.2 55.0,428.9" fill="#8c0008" stroke="#540005"/><polygon points="55.0,417.4 57.7,418.7 62.2,416.6 59.5,415.3" fill="#8c0008" stroke="#540005"/><polygon points="55.0,417.4 57.7,418.7 57.7,424.5 55.0,423.2" fill="#8c0008" stroke="#540005"/><polygon points="57.7,436.0 60.3,437.2 60.3,443.0 57.7,441.7" fill="#8c0008" stroke="#540005"/><polygon points="57.7,430.2 60.3,431.5 60.3,437.2 57.7,436.0" fill="#8c0008" stroke="#540005"/><polygon points="57.7,424.5 60.3,425.8 60.3,431.5 57.7,430.2" fill="#8c0008" stroke="#540005"/><polygon points="57.7,418.7 60.3,420.0 64.8,417.9 62.2,416.6" fill="#8c0008" stroke="#540005"/><polygon points="57.7,418.7 60.3,420.0 60.3,425.8 57.7,424.5" fill="#8c0008" stroke="#540005"/><polygon points="60.3,437.2 63.0,438.6 63.0,444.3 60.3,443.0" fill="#8c0008" stroke="#540005"/><polygon points="60.3,431.5 63.0,432.8 63.0,438.6 60.3,437.2" fill="#8c0008" stroke="#540005"/><polygon points="60.3,425.8 63.0,427.1 63.0,432.8 60.3,431.5" fill="#8c0008" stroke="#540005"/><polygon points="60.3,420.0 63.0,421.3 67.5,419.2 64.8,417.9" fill="#8c0008" stroke="#540005"/><polygon points="60.3,420.0 63.0,421.3 63.0,427.1 60.3,425.8" fill="#8c0008" stroke="#540005"/><polygon points="63.0,438.6 65.7,439.9 65.7,445.6 63.0,444.3" fill="#8c0008" stroke="#540005"/><polygon points="63.0,432.8 65.7,434.1 65.7,439.9 63.0,438.6" fill="#8c0008" stroke="#540005"/><polygon points="63.0,427.1 65.7,428.4 65.7,434.1 63.0,432.8" fill="#8c0008" stroke="#540005"/><polygon points="63.0,421.3 65.7,422.6 70.1,420.5 67.5,419.2" fill="#8c0008" stroke="#540005"/><polygon points="63.0,421.3 65.7,422.6 65.7,428.4 63.0,427.1" fill="#8c0008" stroke="#540005"/><polygon points="65.7,439.9 68.3,441.2 68.3,446.9 65.7,445.6" fill="#8c0008" stroke="#540005"/><polygon points="65.7,434.1 68.3,435.4 68.3,441.2 65.7,439.9" fill="#8c0008" stroke="#540005"/><polygon points="65.7,428.4 68.3,429.7 68.3,435.4 65.7,434.1" fill="#8c0008" stroke="#540005"/><polygon points="65.7,422.6 68.3,423.9 72.8,421.8 70.1,420.5" fill="#8c0008" stroke="#540005"/><polygon points="65.7,422.6 68.3,423.9 68.3,429.7 65.7,428.4" fill="#8c0008" stroke="#540005"/><polygon points="68.3,441.2 71.0,442.5 71.0,448.2 68.3,446.9" fill="#8c0008" stroke="#540005"/><polygon points="68.3,435.4 71.0,436.7 71.0,442.5 68.3,441.2" fill="#8c0008" stroke="#540005"/><polygon points="68.3,429.7 71.0,431.0 71.0,436.7 68.3,435.4" fill="#8c0008" stroke="#540005"/><polygon points="68.3,423.9 71.0,425.2 75.4,423.1 72.8,421.8" fill="#8c0008" stroke="#540005"/><polygon points="68.3,423.9 71.0,425.2 71.0,431.0 68.3,429.7" fill="#8c0008" stroke="#540005"/><polygon points="71.0,442.5 73.6,443.8 73.6,449.5 71.0,448.2" fill="#8c0008" stroke="#540005"/><polygon points="73.6,443.8 78.1,441.6 78.1,447.4 73.6,449.5" fill="#8c0008" stroke="#540005"/><polygon points="71.0,436.7 73.6,438.0 73.6,443.8 71.0,442.5" fill="#8c0008" stroke="#540005"/><polygon points="73.6,438.0 78.1,435.9 78.1,441.6 73.6,443.8" fill="#8c0008" stroke="#540005"/><polygon points="71.0,431.0 73.6,432.2 73.6,438.0 71.0,436.7" fill="#8c0008" stroke="#540005"/><polygon points="73.6,432.2 78.1,430.1 78.1,435.9 73.6,438.0" fill="#8c0008" stroke="#540005"/><polygon points="71.0,425.2 73.6,426.5 78.1,424.4 75.4,423.1" fill="#8c0008" stroke="#540005"/><polygon points="71.0,425.2 73.6,426.5 73.6,432.2 71.0,431.0" fill="#8c0008" stroke="#540005"/><polygon points="73.6,426.5 78.1,424.4 78.1,430.1 73.6,432.2" fill="#8c0008" stroke="#540005"/></g>
<g stroke-width="0.45" stroke-linejoin="round"><polygon points="226.7,382.4 229.4,383.8 233.8,381.6 231.2,380.3" fill="#8c0008" stroke="#540005"/><polygon points="229.4,383.8 232.0,385.1 236.5,382.9 233.8,381.6" fill="#8c0008" stroke="#540005"/><polygon points="232.0,385.1 236.5,382.9 236.5,388.7 232.0,390.8" fill="#8c0008" stroke="#540005"/><polygon points="242.6,401.8 245.3,403.1 249.8,400.9 247.1,399.6" fill="#93ff6c" stroke="#589941"/><polygon points="242.6,401.8 245.3,403.1 245.3,408.8 242.6,407.5" fill="#93ff6c" stroke="#589941"/><polygon points="245.3,403.1 247.9,404.3 252.4,402.2 249.8,400.9" fill="#93ff6c" stroke="#589941"/><polygon points="245.3,403.1 247.9,404.3 247.9,410.1 245.3,408.8" fill="#93ff6c" stroke="#589941"/><polygon points="247.9,404.3 252.4,402.2 252.4,407.9 247.9,410.1" fill="#93ff6c" stroke="#589941"/><polygon points="222.3,384.6 224.9,385.9 229.4,383.8 226.7,382.4" fill="#ee0000" stroke="#8f0000"/><polygon points="224.9,385.9 227.6,387.2 232.0,385.1 229.4,383.8" fill="#ee0000" stroke="#8f0000"/><polygon points="227.6,387.2 230.2,388.5 234.7,386.3 232.0,385.1" fill="#8c0008" stroke="#540005"/><polygon points="230.2,388.5 232.9,389.8 237.3,387.6 234.7,386.3" fill="#8c0008" stroke="#540005"/><polygon points="232.9,389.8 235.5,391.1 240.0,388.9 237.3,387.6" fill="#c60000" stroke="#770000"/><polygon points="235.5,391.1 238.2,392.4 242.6,390.2 240.0,388.9" fill="#ee0000" stroke="#8f0000"/><polygon points="238.2,392.4 240.8,393.7 245.3,391.6 242.6,390.2" fill="#ffa300" stroke="#996200"/><polygon points="243.5,400.8 247.9,398.6 247.9,404.3 243.5,406.5" fill="#ff5d00" stroke="#993800"/><polygon points="240.8,393.7 243.5,395.0 247.9,392.8 245.3,391.6" fill="#fff300" stroke="#999200"/><polygon points="243.5,395.0 247.9,392.8 247.9,398.6 243.5,400.8" fill="#fff300" stroke="#999200"/><polygon points="217.8,386.8 220.5,388.1 224.9,385.9 222.3,384.6" fill="#8c0008" stroke="#540005"/><polygon points="220.5,388.1 223.1,389.4 227.6,387.2 224.9,385.9" fill="#8c0008" stroke="#540005"/><polygon points="223.1,389.4 225.8,390.6 230.2,388.5 227.6,387.2" fill="#8c0008" stroke="#540005"/><polygon points="225.8,390.6 228.4,391.9 232.9,389.8 230.2,388.5" fill="#8c0008" stroke="#540005"/><polygon points="228.4,386.2 231.1,387.5 235.5,385.4 232.9,384.1" fill="#ee0000" stroke="#8f0000"/><polygon points="228.4,386.2 231.1,387.5 231.1,393.2 228.4,391.9" fill="#ee0000" stroke="#8f0000"/><polygon points="231.1,387.5 235.5,385.4 235.5,391.1 231.1,393.2" fill="#ee0000" stroke="#8f0000"/><polygon points="231.1,393.2 233.7,394.6 238.2,392.4 235.5,391.1" fill="#8c0008" stroke="#540005"/><polygon points="233.7,394.6 236.4,395.9 240.8,393.7 238.2,392.4" fill="#8c0008" stroke="#540005"/><polygon points="239.0,414.4 243.5,412.2 243.5,418.0 239.0,420.1" fill="#8c0008" stroke="#540005"/><polygon points="239.0,408.6 243.5,406.5 243.5,412.2 239.0,414.4" fill="#c60000" stroke="#770000"/><polygon points="239.0,402.9 243.5,400.8 243.5,406.5 239.0,408.6" fill="#8c0008" stroke="#540005"/><polygon points="236.4,395.9 239.0,397.1 243.5,395.0 240.8,393.7" fill="#8c0008" stroke="#540005"/><polygon points="239.0,397.1 243.5,395.0 243.5,400.8 239.0,402.9" fill="#8c0008" stroke="#540005"/><polygon points="213.4,388.9 216.0,390.2 220.5,388.1 217.8,386.8" fill="#8c0008" stroke="#540005"/><polygon points="216.0,390.2 218.7,391.5 223.1,389.4 220.5,388.1" fill="#8c0008" stroke="#540005"/><polygon points="218.7,391.5 221.3,392.8 225.8,390.6 223.1,389.4" fill="#8c0008" stroke="#540005"/><polygon points="221.3,392.8 224.0,394.1 228.4,391.9 225.8,390.6" fill="#8c0008" stroke="#540005"/><polygon points="224.0,394.1 226.6,395.4 231.1,393.2 228.4,391.9" fill="#8c0008" stroke="#540005"/><polygon points="226.6,395.4 229.3,396.7 233.7,394.6 231.1,393.2" fill="#8c0008" stroke="#540005"/><polygon points="229.3,396.7 231.9,398.0 236.4,395.9 233.7,394.6" fill="#c60000" stroke="#770000"/><polygon points="234.6,416.6 239.0,414.4 239.0,420.1 234.6,422.3" fill="#fff300" stroke="#999200"/><polygon points="234.6,410.8 239.0,408.6 239.0,414.4 234.6,416.6" fill="#fff300" stroke="#999200"/><polygon points="234.6,405.1 239.0,402.9 239.0,408.6 234.6,410.8" fill="#ff0d00" stroke="#990800"/><polygon points="231.9,398.0 234.6,399.3 239.0,397.1 236.4,395.9" fill="#ff3f00" stroke="#992600"/><polygon points="234.6,399.3 239.0,397.1 239.0,402.9 234.6,405.1" fill="#ff3f00" stroke="#992600"/><polygon points="208.9,391.1 211.6,392.4 216.0,390.2 213.4,388.9" fill="#8c0008" stroke="#540005"/><polygon points="211.6,386.6 214.2,387.9 218.7,385.8 216.0,384.5" fill="#ff5d00" stroke="#993800"/><polygon points="214.2,387.9 218.7,385.8 218.7,391.5 214.2,393.7" fill="#ff5d00" stroke="#993800"/><polygon points="214.2,393.7 216.8,394.9 221.3,392.8 218.7,391.5" fill="#8c0008" stroke="#540005"/><polygon points="216.8,394.9 219.5,396.2 224.0,394.1 221.3,392.8" fill="#8c0008" stroke="#540005"/><polygon points="219.5,396.2 222.2,397.6 226.6,395.4 224.0,394.1" fill="#8c0008" stroke="#540005"/><polygon points="222.2,397.6 224.8,398.9 229.3,396.7 226.6,395.4" fill="#8c0008" stroke="#540005"/><polygon points="224.8,398.9 227.5,400.2 231.9,398.0 229.3,396.7" fill="#8c0008" stroke="#540005"/><polygon points="230.1,424.4 234.6,422.3 234.6,428.1 230.1,430.2" fill="#bbff44" stroke="#709929"/><polygon points="230.1,418.7 234.6,416.6 234.6,422.3 230.1,424.4" fill="#8c0008" stroke="#540005"/><polygon points="230.1,412.9 234.6,410.8 234.6,416.6 230.1,418.7" fill="#8c0008" stroke="#540005"/><polygon points="230.1,407.2 234.6,405.1 234.6,410.8 230.1,412.9" fill="#8c0008" stroke="#540005"/><polygon points="227.5,400.2 230.1,401.4 234.6,399.3 231.9,398.0" fill="#8c0008" stroke="#540005"/><polygon points="230.1,401.4 234.6,399.3 234.6,405.1 230.1,407.2" fill="#8c0008" stroke="#540005"/><polygon points="204.4,393.2 207.1,394.5 211.6,392.4 208.9,391.1" fill="#8c0008" stroke="#540005"/><polygon points="207.1,388.8 209.7,390.1 214.2,387.9 211.6,386.6" fill="#ff2100" stroke="#991400"/><polygon points="207.1,388.8 209.7,390.1 209.7,395.8 207.1,394.5" fill="#ff2100" stroke="#991400"/><polygon points="209.7,390.1 214.2,387.9 214.2,393.7 209.7,395.8" fill="#ff2100" stroke="#991400"/><polygon points="209.7,395.8 212.4,397.1 216.8,394.9 214.2,393.7" fill="#8c0008" stroke="#540005"/><polygon points="212.4,397.1 215.0,398.4 219.5,396.2 216.8,394.9" fill="#8c0008" stroke="#540005"/><polygon points="215.0,398.4 217.7,399.7 222.2,397.6 219.5,396.2" fill="#8c0008" stroke="#540005"/><polygon points="217.7,399.7 220.3,401.0 224.8,398.9 222.2,397.6" fill="#8c0008" stroke="#540005"/><polygon points="220.3,401.0 223.0,402.3 227.5,400.2 224.8,398.9" fill="#8c0008" stroke="#540005"/><polygon points="225.6,426.6 230.1,424.4 230.1,430.2 225.6,432.3" fill="#ff2b00" stroke="#991a00"/><polygon points="225.6,420.8 230.1,418.7 230.1,424.4 225.6,426.6" fill="#8c0008" stroke="#540005"/><polygon points="225.6,415.1 230.1,412.9 230.1,418.7 225.6,420.8" fill="#8c0008" stroke="#540005"/><polygon points="225.6,409.3 230.1,407.2 230.1,412.9 225.6,415.1" fill="#8c0008" stroke="#540005"/><polygon points="223.0,402.3 225.6,403.6 230.1,401.4 227.5,400.2" fill="#8c0008" stroke="#540005"/><polygon points="225.6,403.6 230.1,401.4 230.1,407.2 225.6,409.3" fill="#8c0008" stroke="#540005"/><polygon points="200.0,395.4 202.6,396.7 207.1,394.5 204.4,393.2" fill="#8c0008" stroke="#540005"/><polygon points="202.6,396.7 205.3,398.0 209.7,395.8 207.1,394.5" fill="#8c0008" stroke="#540005"/><polygon points="205.3,398.0 207.9,399.2 212.4,397.1 209.7,395.8" fill="#8c0008" stroke="#540005"/><polygon points="207.9,399.2 210.6,400.6 215.0,398.4 212.4,397.1" fill="#8c0008" stroke="#540005"/><polygon points="210.6,423.6 213.2,424.9 213.2,430.6 210.6,429.3" fill="#ff8f00" stroke="#995600"/><polygon points="210.6,400.6 213.2,401.9 217.7,399.7 215.0,398.4" fill="#8c0008" stroke="#540005"/><polygon points="213.2,424.9 215.9,426.2 215.9,431.9 213.2,430.6" fill="#ff2b00" stroke="#991a00"/><polygon points="213.2,401.9 215.9,403.2 220.3,401.0 217.7,399.7" fill="#8c0008" stroke="#540005"/><polygon points="215.9,403.2 218.5,404.5 223.0,402.3 220.3,401.0" fill="#8c0008" stroke="#540005"/><polygon points="221.2,428.8 225.6,426.6 225.6,432.3 221.2,434.5" fill="#fff300" stroke="#999200"/><polygon points="221.2,423.0 225.6,420.8 225.6,426.6 221.2,428.8" fill="#8c0008" stroke="#540005"/><polygon points="221.2,417.2 225.6,415.1 225.6,420.8 221.2,423.0" fill="#8c0008" stroke="#540005"/><polygon points="221.2,411.5 225.6,409.3 225.6,415.1 221.2,417.2" fill="#8c0008" stroke="#540005"/><polygon points="218.5,404.5 221.2,405.8 225.6,403.6 223.0,402.3" fill="#8c0008" stroke="#540005"/><polygon points="221.2,405.8 225.6,403.6 225.6,409.3 221.2,411.5" fill="#8c0008" stroke="#540005"/><polygon points="195.5,397.5 198.2,398.8 202.6,396.7 200.0,395.4" fill="#8c0008" stroke="#540005"/><polygon points="198.2,398.8 200.8,400.1 205.3,398.0 202.6,396.7" fill="#8c0008" stroke="#540005"/><polygon points="200.8,400.1 203.5,401.4 207.9,399.2 205.3,398.0" fill="#8c0008" stroke="#540005"/><polygon points="203.5,401.4 206.1,402.7 210.6,400.6 207.9,399.2" fill="#8c0008" stroke="#540005"/><polygon points="206.1,402.7 208.8,404.0 213.2,401.9 210.6,400.6" fill="#8c0008" stroke="#540005"/><polygon points="208.8,404.0 211.4,405.3 215.9,403.2 213.2,401.9" fill="#8c0008" stroke="#540005"/><polygon points="211.4,405.3 214.1,406.6 218.5,404.5 215.9,403.2" fill="#8c0008" stroke="#540005"/><polygon points="216.7,430.9 221.2,428.8 221.2,434.5 216.7,436.6" fill="#ff0d00" stroke="#990800"/><polygon points="216.7,425.1 221.2,423.0 221.2,428.8 216.7,430.9" fill="#8c0008" stroke="#540005"/><polygon points="216.7,419.4 221.2,417.2 221.2,423.0 216.7,425.1" fill="#8c0008" stroke="#540005"/><polygon points="216.7,413.6 221.2,411.5 221.2,417.2 216.7,419.4" fill="#8c0008" stroke="#540005"/><polygon points="214.1,406.6 216.7,407.9 221.2,405.8 218.5,404.5" fill="#8c0008" stroke="#540005"/><polygon points="216.7,407.9 221.2,405.8 221.2,411.5 216.7,413.6" fill="#8c0008" stroke="#540005"/><polygon points="191.1,399.7 193.7,401.0 198.2,398.8 195.5,397.5" fill="#8c0008" stroke="#540005"/><polygon points="193.7,401.0 196.4,402.3 200.8,400.1 198.2,398.8" fill="#8c0008" stroke="#540005"/><polygon points="196.4,431.0 199.0,432.3 199.0,438.1 196.4,436.8" fill="#fff300" stroke="#999200"/><polygon points="196.4,402.3 199.0,403.6 203.5,401.4 200.8,400.1" fill="#8c0008" stroke="#540005"/><polygon points="199.0,432.3 201.7,433.6 201.7,439.4 199.0,438.1" fill="#ffc100" stroke="#997400"/><polygon points="199.0,403.6 201.7,404.9 206.1,402.7 203.5,401.4" fill="#8c0008" stroke="#540005"/><polygon points="201.7,404.9 204.3,406.2 208.8,404.0 206.1,402.7" fill="#8c0008" stroke="#540005"/><polygon points="207.0,436.2 211.4,434.1 211.4,439.8 207.0,442.0" fill="#9dff62" stroke="#5e993b"/><polygon points="204.3,406.2 207.0,407.5 211.4,405.3 208.8,404.0" fill="#8c0008" stroke="#540005"/><polygon points="207.0,407.5 209.6,408.8 214.1,406.6 211.4,405.3" fill="#8c0008" stroke="#540005"/><polygon points="212.3,433.1 216.7,430.9 216.7,436.6 212.3,438.8" fill="#ffa300" stroke="#996200"/><polygon points="212.3,427.3 216.7,425.1 216.7,430.9 212.3,433.1" fill="#8c0008" stroke="#540005"/><polygon points="212.3,421.6 216.7,419.4 216.7,425.1 212.3,427.3" fill="#8c0008" stroke="#540005"/><polygon points="212.3,415.8 216.7,413.6 216.7,419.4 212.3,421.6" fill="#8c0008" stroke="#540005"/><polygon points="209.6,408.8 212.3,410.1 216.7,407.9 214.1,406.6" fill="#8c0008" stroke="#540005"/><polygon points="212.3,410.1 216.7,407.9 216.7,413.6 212.3,415.8" fill="#8c0008" stroke="#540005"/><polygon points="186.6,424.8 189.2,426.1 189.2,431.9 186.6,430.6" fill="#ee0000" stroke="#8f0000"/><polygon points="186.6,419.1 189.2,420.4 189.2,426.1 186.6,424.8" fill="#8c0008" stroke="#540005"/><polygon points="186.6,413.3 189.2,414.6 189.2,420.4 186.6,419.1" fill="#8c0008" stroke="#540005"/><polygon points="186.6,407.6 189.2,408.9 189.2,414.6 186.6,413.3" fill="#8c0008" stroke="#540005"/><polygon points="186.6,401.8 189.2,403.1 193.7,401.0 191.1,399.7" fill="#8c0008" stroke="#540005"/><polygon points="186.6,401.8 189.2,403.1 189.2,408.9 186.6,407.6" fill="#8c0008" stroke="#540005"/><polygon points="189.2,426.1 191.9,427.4 191.9,433.2 189.2,431.9" fill="#c60000" stroke="#770000"/><polygon points="189.2,420.4 191.9,421.7 191.9,427.4 189.2,426.1" fill="#8c0008" stroke="#540005"/><polygon points="189.2,414.6 191.9,415.9 191.9,421.7 189.2,420.4" fill="#8c0008" stroke="#540005"/><polygon points="189.2,408.9 191.9,410.2 191.9,415.9 189.2,414.6" fill="#8c0008" stroke="#540005"/><polygon points="189.2,403.1 191.9,404.4 196.4,402.3 193.7,401.0" fill="#8c0008" stroke="#540005"/><polygon points="189.2,403.1 191.9,404.4 191.9,410.2 189.2,408.9" fill="#8c0008" stroke="#540005"/><polygon points="191.9,427.4 194.5,428.7 194.5,434.4 191.9,433.2" fill="#ee0000" stroke="#8f0000"/><polygon points="191.9,421.7 194.5,422.9 194.5,428.7 191.9,427.4" fill="#8c0008" stroke="#540005"/><polygon points="191.9,415.9 194.5,417.2 194.5,422.9 191.9,421.7" fill="#8c0008" stroke="#540005"/><polygon points="191.9,410.2 194.5,411.4 194.5,417.2 191.9,415.9" fill="#8c0008" stroke="#540005"/><polygon points="191.9,404.4 194.5,405.7 199.0,403.6 196.4,402.3" fill="#8c0008" stroke="#540005"/><polygon points="191.9,404.4 194.5,405.7 194.5,411.4 191.9,410.2" fill="#8c0008" stroke="#540005"/><polygon points="194.5,428.7 197.2,430.0 197.2,435.8 194.5,434.4" fill="#ee0000" stroke="#8f0000"/><polygon points="194.5,422.9 197.2,424.2 197.2,430.0 194.5,428.7" fill="#8c0008" stroke="#540005"/><polygon points="194.5,417.2 197.2,418.5 197.2,424.2 194.5,422.9" fill="#8c0008" stroke="#540005"/><polygon points="194.5,411.4 197.2,412.8 197.2,418.5 194.5,417.2" fill="#8c0008" stroke="#540005"/><polygon points="194.5,405.7 197.2,407.0 201.7,404.9 199.0,403.6" fill="#8c0008" stroke="#540005"/><polygon points="194.5,405.7 197.2,407.0 197.2,412.8 194.5,411.4" fill="#8c0008" stroke="#540005"/><polygon points="197.2,435.8 199.8,437.1 199.8,442.8 197.2,441.5" fill="#ffa300" stroke="#996200"/><polygon points="197.2,430.0 199.8,431.3 199.8,437.1 197.2,435.8" fill="#ff5d00" stroke="#993800"/><polygon points="197.2,424.2 199.8,425.6 199.8,431.3 197.2,430.0" fill="#8c0008" stroke="#540005"/><polygon points="197.2,418.5 199.8,419.8 199.8,425.6 197.2,424.2" fill="#8c0008" stroke="#540005"/><polygon points="197.2,412.8 199.8,414.1 199.8,419.8 197.2,418.5" fill="#8c0008" stroke="#540005"/><polygon points="197.2,407.0 199.8,408.3 204.3,406.2 201.7,404.9" fill="#8c0008" stroke="#540005"/><polygon points="197.2,407.0 199.8,408.3 199.8,414.1 197.2,412.8" fill="#8c0008" stroke="#540005"/><polygon points="199.8,437.1 202.5,438.4 202.5,444.1 199.8,442.8" fill="#fff300" stroke="#999200"/><polygon points="202.5,438.4 207.0,436.2 207.0,442.0 202.5,444.1" fill="#fff300" stroke="#999200"/><polygon points="199.8,431.3 202.5,432.6 202.5,438.4 199.8,437.1" fill="#ff2b00" stroke="#991a00"/><polygon points="199.8,425.6 202.5,426.9 202.5,432.6 199.8,431.3" fill="#8c0008" stroke="#540005"/><polygon points="199.8,419.8 202.5,421.1 202.5,426.9 199.8,425.6" fill="#8c0008" stroke="#540005"/><polygon points="199.8,414.1 202.5,415.4 202.5,421.1 199.8,419.8" fill="#8c0008" stroke="#540005"/><polygon points="199.8,408.3 202.5,409.6 207.0,407.5 204.3,406.2" fill="#8c0008" stroke="#540005"/><polygon points="199.8,408.3 202.5,409.6 202.5,415.4 199.8,414.1" fill="#8c0008" stroke="#540005"/><polygon points="202.5,432.6 205.2,433.9 205.2,439.7 202.5,438.4" fill="#ff5d00" stroke="#993800"/><polygon points="202.5,426.9 205.2,428.2 205.2,433.9 202.5,432.6" fill="#8c0008" stroke="#540005"/><polygon points="202.5,421.1 205.2,422.4 205.2,428.2 202.5,426.9" fill="#8c0008" stroke="#540005"/><polygon points="202.5,415.4 205.2,416.7 205.2,422.4 202.5,421.1" fill="#8c0008" stroke="#540005"/><polygon points="202.5,409.6 205.2,410.9 209.6,408.8 207.0,407.5" fill="#8c0008" stroke="#540005"/><polygon points="202.5,409.6 205.2,410.9 205.2,416.7 202.5,415.4" fill="#8c0008" stroke="#540005"/><polygon points="205.2,433.9 207.8,435.2 207.8,440.9 205.2,439.7" fill="#ff5d00" stroke="#993800"/><polygon points="207.8,435.2 212.3,433.1 212.3,438.8 207.8,440.9" fill="#ff5d00" stroke="#993800"/><polygon points="205.2,428.2 207.8,429.4 207.8,435.2 205.2,433.9" fill="#8c0008" stroke="#540005"/><polygon points="207.8,429.4 212.3,427.3 212.3,433.1 207.8,435.2" fill="#8c0008" stroke="#540005"/><polygon points="205.2,422.4 207.8,423.7 207.8,429.4 205.2,428.2" fill="#8c0008" stroke="#540005"/><polygon points="207.8,423.7 212.3,421.6 212.3,427.3 207.8,429.4" fill="#8c0008" stroke="#540005"/><polygon points="205.2,416.7 207.8,417.9 207.8,423.7 205.2,422.4" fill="#8c0008" stroke="#540005"/><polygon points="207.8,417.9 212.3,415.8 212.3,421.6 207.8,423.7" fill="#8c0008" stroke="#540005"/><polygon points="205.2,410.9 207.8,412.2 212.3,410.1 209.6,408.8" fill="#8c0008" stroke="#540005"/><polygon points="205.2,410.9 207.8,412.2 207.8,417.9 205.2,416.7" fill="#8c0008" stroke="#540005"/><polygon points="207.8,412.2 212.3,410.1 212.3,415.8 207.8,417.9" fill="#8c0008" stroke="#540005"/></g>
<g stroke-width="0.45" stroke-linejoin="round"><polygon points="121.8,440.9 124.5,442.2 128.9,440.0 126.3,438.7" fill="#8c0008" stroke="#540005"/><polygon points="124.5,442.2 127.1,443.5 131.6,441.3 128.9,440.0" fill="#8c0008" stroke="#540005"/><polygon points="127.1,443.5 129.8,444.8 134.2,442.6 131.6,441.3" fill="#8c0008" stroke="#540005"/><polygon points="129.8,444.8 132.4,446.1 136.9,443.9 134.2,442.6" fill="#8c0008" stroke="#540005"/><polygon points="132.4,446.1 135.1,447.4 139.5,445.2 136.9,443.9" fill="#cfff30" stroke="#7c991d"/><polygon points="137.7,454.4 142.2,452.3 142.2,458.0 137.7,460.2" fill="#fff300" stroke="#999200"/><polygon points="135.1,447.4 137.7,448.7 142.2,446.5 139.5,445.2" fill="#fffd00" stroke="#999800"/><polygon points="137.7,448.7 142.2,446.5 142.2,452.3 137.7,454.4" fill="#fffd00" stroke="#999800"/><polygon points="117.3,443.0 120.0,444.3 124.5,442.2 121.8,440.9" fill="#8c0008" stroke="#540005"/><polygon points="120.0,444.3 122.6,445.6 127.1,443.5 124.5,442.2" fill="#8c0008" stroke="#540005"/><polygon points="122.6,445.6 125.3,446.9 129.8,444.8 127.1,443.5" fill="#8c0008" stroke="#540005"/><polygon points="127.9,459.7 132.4,457.6 132.4,463.3 127.9,465.4" fill="#8c0008" stroke="#540005"/><polygon points="125.3,446.9 127.9,448.2 132.4,446.1 129.8,444.8" fill="#8c0008" stroke="#540005"/><polygon points="127.9,448.2 130.6,449.5 135.1,447.4 132.4,446.1" fill="#8c0008" stroke="#540005"/><polygon points="133.2,456.6 137.7,454.4 137.7,460.2 133.2,462.3" fill="#8c0008" stroke="#540005"/><polygon points="130.6,449.5 133.2,450.8 137.7,448.7 135.1,447.4" fill="#8c0008" stroke="#540005"/><polygon points="133.2,450.8 137.7,448.7 137.7,454.4 133.2,456.6" fill="#8c0008" stroke="#540005"/><polygon points="112.9,445.2 115.5,446.5 120.0,444.3 117.3,443.0" fill="#8c0008" stroke="#540005"/><polygon points="115.5,446.5 118.2,447.8 122.6,445.6 120.0,444.3" fill="#8c0008" stroke="#540005"/><polygon points="118.2,447.8 120.8,449.1 125.3,446.9 122.6,445.6" fill="#8c0008" stroke="#540005"/><polygon points="120.8,449.1 123.5,450.4 127.9,448.2 125.3,446.9" fill="#8c0008" stroke="#540005"/><polygon points="123.5,450.4 126.1,451.7 130.6,449.5 127.9,448.2" fill="#8c0008" stroke="#540005"/><polygon points="128.8,470.2 133.2,468.1 133.2,473.8 128.8,476.0" fill="#cfff30" stroke="#7c991d"/><polygon points="128.8,464.5 133.2,462.3 133.2,468.1 128.8,470.2" fill="#ff5d00" stroke="#993800"/><polygon points="128.8,458.7 133.2,456.6 133.2,462.3 128.8,464.5" fill="#fff300" stroke="#999200"/><polygon points="126.1,451.7 128.8,453.0 133.2,450.8 130.6,449.5" fill="#8c0008" stroke="#540005"/><polygon points="128.8,453.0 133.2,450.8 133.2,456.6 128.8,458.7" fill="#8c0008" stroke="#540005"/><polygon points="108.4,447.3 111.1,448.6 115.5,446.5 112.9,445.2" fill="#93ff6c" stroke="#589941"/><polygon points="111.1,448.6 113.7,449.9 118.2,447.8 115.5,446.5" fill="#4effb1" stroke="#2f996a"/><polygon points="113.7,449.9 116.4,451.2 120.8,449.1 118.2,447.8" fill="#8c0008" stroke="#540005"/><polygon points="116.4,451.2 119.0,452.5 123.5,450.4 120.8,449.1" fill="#8c0008" stroke="#540005"/><polygon points="119.0,452.5 121.7,453.8 126.1,451.7 123.5,450.4" fill="#9dff62" stroke="#5e993b"/><polygon points="124.3,478.1 128.8,476.0 128.8,481.7 124.3,483.9" fill="#4effb1" stroke="#2f996a"/><polygon points="124.3,472.4 128.8,470.2 128.8,476.0 124.3,478.1" fill="#d9ff26" stroke="#829917"/><polygon points="124.3,466.6 128.8,464.5 128.8,470.2 124.3,472.4" fill="#c60000" stroke="#770000"/><polygon points="124.3,460.9 128.8,458.7 128.8,464.5 124.3,466.6" fill="#c60000" stroke="#770000"/><polygon points="121.7,453.8 124.3,455.1 128.8,453.0 126.1,451.7" fill="#cfff30" stroke="#7c991d"/><polygon points="124.3,455.1 128.8,453.0 128.8,458.7 124.3,460.9" fill="#cfff30" stroke="#7c991d"/><polygon points="104.0,449.5 106.6,450.8 111.1,448.6 108.4,447.3" fill="#cfff30" stroke="#7c991d"/><polygon points="106.6,450.8 109.3,452.1 113.7,449.9 111.1,448.6" fill="#cfff30" stroke="#7c991d"/><polygon points="109.3,452.1 111.9,453.4 116.4,451.2 113.7,449.9" fill="#8c0008" stroke="#540005"/><polygon points="111.9,453.4 114.6,454.7 119.0,452.5 116.4,451.2" fill="#8c0008" stroke="#540005"/><polygon points="114.6,454.7 117.2,456.0 121.7,453.8 119.0,452.5" fill="#8c0008" stroke="#540005"/><polygon points="119.9,480.3 124.3,478.1 124.3,483.9 119.9,486.0" fill="#cfff30" stroke="#7c991d"/><polygon points="119.9,474.5 124.3,472.4 124.3,478.1 119.9,480.3" fill="#ff0d00" stroke="#990800"/><polygon points="119.9,468.8 124.3,466.6 124.3,472.4 119.9,474.5" fill="#ee0000" stroke="#8f0000"/><polygon points="119.9,463.0 124.3,460.9 124.3,466.6 119.9,468.8" fill="#ff5d00" stroke="#993800"/><polygon points="117.2,456.0 119.9,457.3 124.3,455.1 121.7,453.8" fill="#8c0008" stroke="#540005"/><polygon points="119.9,457.3 124.3,455.1 124.3,460.9 119.9,463.0" fill="#8c0008" stroke="#540005"/><polygon points="99.5,474.6 102.2,475.9 102.2,481.7 99.5,480.4" fill="#e3ff1c" stroke="#889911"/><polygon points="99.5,468.9 102.2,470.2 102.2,475.9 99.5,474.6" fill="#fff300" stroke="#999200"/><polygon points="99.5,463.1 102.2,464.4 102.2,470.2 99.5,468.9" fill="#ffc100" stroke="#997400"/><polygon points="99.5,457.4 102.2,458.7 102.2,464.4 99.5,463.1" fill="#ff5d00" stroke="#993800"/><polygon points="99.5,451.6 102.2,452.9 106.6,450.8 104.0,449.5" fill="#ff2100" stroke="#991400"/><polygon points="99.5,451.6 102.2,452.9 102.2,458.7 99.5,457.4" fill="#ff2100" stroke="#991400"/><polygon points="102.2,475.9 104.8,477.2 104.8,483.0 102.2,481.7" fill="#93ff6c" stroke="#589941"/><polygon points="102.2,470.2 104.8,471.5 104.8,477.2 102.2,475.9" fill="#fff300" stroke="#999200"/><polygon points="102.2,464.4 104.8,465.7 104.8,471.5 102.2,470.2" fill="#fff300" stroke="#999200"/><polygon points="102.2,458.7 104.8,460.0 104.8,465.7 102.2,464.4" fill="#ff2b00" stroke="#991a00"/><polygon points="102.2,452.9 104.8,454.2 109.3,452.1 106.6,450.8" fill="#ee0000" stroke="#8f0000"/><polygon points="102.2,452.9 104.8,454.2 104.8,460.0 102.2,458.7" fill="#ee0000" stroke="#8f0000"/><polygon points="104.8,477.2 107.5,478.5 107.5,484.2 104.8,483.0" fill="#ff2b00" stroke="#991a00"/><polygon points="104.8,471.5 107.5,472.8 107.5,478.5 104.8,477.2" fill="#ff5d00" stroke="#993800"/><polygon points="104.8,465.7 107.5,467.0 107.5,472.8 104.8,471.5" fill="#ee0000" stroke="#8f0000"/><polygon points="104.8,460.0 107.5,461.2 107.5,467.0 104.8,465.7" fill="#8c0008" stroke="#540005"/><polygon points="104.8,454.2 107.5,455.5 111.9,453.4 109.3,452.1" fill="#8c0008" stroke="#540005"/><polygon points="104.8,454.2 107.5,455.5 107.5,461.2 104.8,460.0" fill="#8c0008" stroke="#540005"/><polygon points="107.5,478.5 110.1,479.8 110.1,485.6 107.5,484.2" fill="#ff2b00" stroke="#991a00"/><polygon points="107.5,472.8 110.1,474.1 110.1,479.8 107.5,478.5" fill="#ff5d00" stroke="#993800"/><polygon points="107.5,467.0 110.1,468.3 110.1,474.1 107.5,472.8" fill="#ee0000" stroke="#8f0000"/><polygon points="107.5,461.2 110.1,462.6 110.1,468.3 107.5,467.0" fill="#8c0008" stroke="#540005"/><polygon points="107.5,455.5 110.1,456.8 114.6,454.7 111.9,453.4" fill="#8c0008" stroke="#540005"/><polygon points="107.5,455.5 110.1,456.8 110.1,462.6 107.5,461.2" fill="#8c0008" stroke="#540005"/><polygon points="110.1,479.8 112.8,481.1 112.8,486.9 110.1,485.6" fill="#fff300" stroke="#999200"/><polygon points="110.1,474.1 112.8,475.4 112.8,481.1 110.1,479.8" fill="#ffa300" stroke="#996200"/><polygon points="110.1,468.3 112.8,469.6 112.8,475.4 110.1,474.1" fill="#ff0d00" stroke="#990800"/><polygon points="110.1,462.6 112.8,463.9 112.8,469.6 110.1,468.3" fill="#fff300" stroke="#999200"/><polygon points="110.1,456.8 112.8,458.1 117.2,456.0 114.6,454.7" fill="#cfff30" stroke="#7c991d"/><polygon points="110.1,456.8 112.8,458.1 112.8,463.9 110.1,462.6" fill="#cfff30" stroke="#7c991d"/><polygon points="112.8,481.1 115.4,482.4 115.4,488.2 112.8,486.9" fill="#fff300" stroke="#999200"/><polygon points="115.4,482.4 119.9,480.3 119.9,486.0 115.4,488.2" fill="#fff300" stroke="#999200"/><polygon points="112.8,475.4 115.4,476.7 115.4,482.4 112.8,481.1" fill="#fff300" stroke="#999200"/><polygon points="115.4,476.7 119.9,474.5 119.9,480.3 115.4,482.4" fill="#fff300" stroke="#999200"/><polygon points="112.8,469.6 115.4,470.9 115.4,476.7 112.8,475.4" fill="#ff5d00" stroke="#993800"/><polygon points="115.4,470.9 119.9,468.8 119.9,474.5 115.4,476.7" fill="#ff5d00" stroke="#993800"/><polygon points="112.8,463.9 115.4,465.2 115.4,470.9 112.8,469.6" fill="#fff300" stroke="#999200"/><polygon points="115.4,465.2 119.9,463.0 119.9,468.8 115.4,470.9" fill="#fff300" stroke="#999200"/><polygon points="112.8,458.1 115.4,459.4 119.9,457.3 117.2,456.0" fill="#fffd00" stroke="#999800"/><polygon points="112.8,458.1 115.4,459.4 115.4,465.2 112.8,463.9" fill="#fffd00" stroke="#999800"/><polygon points="115.4,459.4 119.9,457.3 119.9,463.0 115.4,465.2" fill="#fffd00" stroke="#999800"/></g>
<line x1="34.70" y1="399.30" x2="34.70" y2="488.30" stroke="#4a4a4a" stroke-width="0.7"/>
<line x1="34.70" y1="488.30" x2="119.70" y2="530.30" stroke="#4a4a4a" stroke-width="0.7"/>
<line x1="119.70" y1="530.30" x2="263.70" y2="459.60" stroke="#4a4a4a" stroke-width="0.7"/>
<line x1="34.70" y1="399.30" x2="32.50" y2="398.20" stroke="#4a4a4a" stroke-width="0.7"/>
<line x1="34.70" y1="421.19" x2="32.50" y2="420.09" stroke="#4a4a4a" stroke-width="0.7"/>
<line x1="34.70" y1="443.53" x2="32.50" y2="442.43" stroke="#4a4a4a" stroke-width="0.7"/>
<line x1="34.70" y1="465.52" x2="32.50" y2="464.42" stroke="#4a4a4a" stroke-width="0.7"/>
<line x1="34.70" y1="481.00" x2="32.50" y2="479.90" stroke="#4a4a4a" stroke-width="0.7"/>
<line x1="34.70" y1="488.30" x2="32.30" y2="489.50" stroke="#4a4a4a" stroke-width="0.7"/>
<line x1="119.70" y1="530.30" x2="122.10" y2="531.50" stroke="#4a4a4a" stroke-width="0.7"/>
<line x1="55.95" y1="498.80" x2="53.55" y2="500.00" stroke="#4a4a4a" stroke-width="0.7"/>
<line x1="155.70" y1="512.62" x2="158.10" y2="513.83" stroke="#4a4a4a" stroke-width="0.7"/>
<line x1="77.20" y1="509.30" x2="74.80" y2="510.50" stroke="#4a4a4a" stroke-width="0.7"/>
<line x1="191.70" y1="494.95" x2="194.10" y2="496.15" stroke="#4a4a4a" stroke-width="0.7"/>
<line x1="98.45" y1="519.80" x2="96.05" y2="521.00" stroke="#4a4a4a" stroke-width="0.7"/>
<line x1="227.70" y1="477.27" x2="230.10" y2="478.47" stroke="#4a4a4a" stroke-width="0.7"/>
<line x1="119.70" y1="530.30" x2="117.30" y2="531.50" stroke="#4a4a4a" stroke-width="0.7"/>
<line x1="263.70" y1="459.60" x2="266.10" y2="460.80" stroke="#4a4a4a" stroke-width="0.7"/>
<g font-family="Liberation Serif, serif" font-weight="bold" fill="#161616">
<text x="29.20" y="397.40" font-size="10" text-anchor="end" dominant-baseline="central" >0</text>
<text x="29.20" y="420.70" font-size="10" text-anchor="end" dominant-baseline="central" >0.4</text>
<text x="29.20" y="442.30" font-size="10" text-anchor="end" dominant-baseline="central" >0.8</text>
<text x="29.20" y="464.00" font-size="10" text-anchor="end" dominant-baseline="central" >1.2</text>
<text x="29.20" y="480.80" font-size="10" text-anchor="end" dominant-baseline="central" >1.6</text>
<text x="25.60" y="497.60" font-size="9.8" text-anchor="middle" dominant-baseline="central" >0</text>
<text x="41.60" y="508.20" font-size="9.8" text-anchor="middle" dominant-baseline="central" >0.74</text>
<text x="63.30" y="519.20" font-size="9.8" text-anchor="middle" dominant-baseline="central" >1.49</text>
<text x="84.10" y="529.80" font-size="9.8" text-anchor="middle" dominant-baseline="central" >2.23</text>
<text x="102.70" y="539.20" font-size="9.8" text-anchor="middle" dominant-baseline="central" >2.98</text>
<text x="129.20" y="540.00" font-size="9.8" text-anchor="middle" dominant-baseline="central" >0</text>
<text x="171.20" y="522.40" font-size="9.8" text-anchor="middle" dominant-baseline="central" >1.25</text>
<text x="207.40" y="503.90" font-size="9.8" text-anchor="middle" dominant-baseline="central" >2.51</text>
<text x="243.50" y="485.30" font-size="9.8" text-anchor="middle" dominant-baseline="central" >3.76</text>
<text x="273.80" y="470.50" font-size="9.8" text-anchor="middle" dominant-baseline="central" >5.02</text>
<text x="48.90" y="543.30" font-size="11.4" text-anchor="middle" dominant-baseline="central" >X/(km)</text>
<text x="206.80" y="536.00" font-size="11.4" text-anchor="middle" dominant-baseline="central" >Y/(km)</text>
<text x="9.60" y="444.30" font-size="11.6" text-anchor="middle" dominant-baseline="central" transform="rotate(-90 9.6 444.3)" >Z/(km)</text>
<text x="300.00" y="320.50" font-size="8.9" text-anchor="middle" dominant-baseline="central" >SI</text>
<text x="307.60" y="328.90" font-size="8.7" text-anchor="start" dominant-baseline="central" >0.1</text>
<text x="307.60" y="369.35" font-size="8.7" text-anchor="start" dominant-baseline="central" >0.08</text>
<text x="307.60" y="409.80" font-size="8.7" text-anchor="start" dominant-baseline="central" >0.06</text>
<text x="307.60" y="450.25" font-size="8.7" text-anchor="start" dominant-baseline="central" >0.04</text>
<text x="307.60" y="490.70" font-size="8.7" text-anchor="start" dominant-baseline="central" >0.02</text>
<text x="307.60" y="531.15" font-size="8.7" text-anchor="start" dominant-baseline="central" >0</text>
<text y="295.50" font-size="19.3" text-anchor="middle" xml:space="preserve"><tspan x="19.90" dominant-baseline="central">(</tspan><tspan x="34.80" y="302.20" font-size="21.5"> c </tspan><tspan x="47.90" y="295.50" dominant-baseline="central">)</tspan></text>
</g>
<rect x="296.00" y="328.40" width="8.60" height="6.63" fill="#8f0000"/>
<rect x="296.00" y="334.73" width="8.60" height="6.63" fill="#cc0a0d"/>
<rect x="296.00" y="341.06" width="8.60" height="6.63" fill="#db0d0f"/>
<rect x="296.00" y="347.39" width="8.60" height="6.63" fill="#ed0d0d"/>
<rect x="296.00" y="353.72" width="8.60" height="6.63" fill="#ff0d0d"/>
<rect x="296.00" y="360.06" width="8.60" height="6.63" fill="#ff3000"/>
<rect x="296.00" y="366.39" width="8.60" height="6.63" fill="#ff5000"/>
<rect x="296.00" y="372.72" width="8.60" height="6.63" fill="#ff7000"/>
<rect x="296.00" y="379.05" width="8.60" height="6.63" fill="#ff8f00"/>
<rect x="296.00" y="385.38" width="8.60" height="6.63" fill="#ffaf00"/>
<rect x="296.00" y="391.71" width="8.60" height="6.63" fill="#ffcf00"/>
<rect x="296.00" y="398.04" width="8.60" height="6.63" fill="#ffef00"/>
<rect x="296.00" y="404.38" width="8.60" height="6.63" fill="#efff10"/>
<rect x="296.00" y="410.71" width="8.60" height="6.63" fill="#cfff30"/>
<rect x="296.00" y="417.04" width="8.60" height="6.63" fill="#afff50"/>
<rect x="296.00" y="423.37" width="8.60" height="6.63" fill="#8fff70"/>
<rect x="296.00" y="429.70" width="8.60" height="6.63" fill="#70ff8f"/>
<rect x="296.00" y="436.03" width="8.60" height="6.63" fill="#50ffaf"/>
<rect x="296.00" y="442.36" width="8.60" height="6.63" fill="#30ffcf"/>
<rect x="296.00" y="448.69" width="8.60" height="6.63" fill="#10ffef"/>
<rect x="296.00" y="455.02" width="8.60" height="6.63" fill="#00efff"/>
<rect x="296.00" y="461.36" width="8.60" height="6.63" fill="#00cfff"/>
<rect x="296.00" y="467.69" width="8.60" height="6.63" fill="#00afff"/>
<rect x="296.00" y="474.02" width="8.60" height="6.63" fill="#008fff"/>
<rect x="296.00" y="480.35" width="8.60" height="6.63" fill="#0070ff"/>
<rect x="296.00" y="486.68" width="8.60" height="6.63" fill="#0050ff"/>
<rect x="296.00" y="493.01" width="8.60" height="6.63" fill="#0030ff"/>
<rect x="296.00" y="499.34" width="8.60" height="6.63" fill="#0010ff"/>
<rect x="296.00" y="505.68" width="8.60" height="6.63" fill="#0000ef"/>
<rect x="296.00" y="512.01" width="8.60" height="6.63" fill="#0000cf"/>
<rect x="296.00" y="518.34" width="8.60" height="6.63" fill="#0000af"/>
<rect x="296.00" y="524.67" width="8.60" height="6.63" fill="#00008f"/>
<clipPath id="cb"><rect x="389.30" y="42.90" width="119.60" height="201.00"/></clipPath>
<rect x="389.30" y="42.90" width="119.60" height="201.00" fill="#f20006"/>
<g clip-path="url(#cb)">
<path d="M420.45 90.09 C422.82 90.17 424.16 91.86 425.18 93.64 C426.21 95.41 426.80 97.97 426.60 100.73 C426.40 103.48 425.42 107.23 424.00 110.18 C422.58 113.14 420.45 116.68 418.09 118.45 C415.73 120.23 412.18 121.01 409.82 120.82 C407.45 120.62 405.21 119.24 403.91 117.27 C402.61 115.30 401.82 111.95 402.02 109.00 C402.22 106.05 403.59 102.18 405.09 99.55 C406.59 96.91 408.44 94.74 411.00 93.16 C413.56 91.59 418.09 90.01 420.45 90.09 Z" fill="#7e0000" stroke="#3a1a1a" stroke-width="0.5"/>
<path d="M439.84 104.27 C440.94 104.08 442.44 107.23 443.15 109.00 C443.85 110.77 444.41 112.94 444.09 114.91 C443.78 116.88 442.71 119.16 441.25 120.82 C439.80 122.47 436.45 125.23 435.35 124.84 C434.24 124.44 434.44 120.90 434.64 118.45 C434.83 116.01 435.66 112.55 436.53 110.18 C437.39 107.82 438.73 104.47 439.84 104.27 Z" fill="#ff5a1c" stroke="#3a1a1a" stroke-width="0.5"/>
<path d="M474.34 114.91 C474.27 112.62 474.34 109.08 475.53 106.64 C476.71 104.19 478.80 101.79 481.44 100.25 C484.08 98.72 488.05 97.58 491.36 97.42 C494.67 97.26 498.77 97.97 501.29 99.31 C503.81 100.65 505.70 102.85 506.49 105.45 C507.28 108.05 507.04 112.07 506.02 114.91 C504.99 117.75 502.94 120.58 500.34 122.47 C497.74 124.36 493.69 125.86 490.42 126.25 C487.15 126.65 483.13 125.82 480.73 124.84 C478.32 123.85 477.06 122.00 476.00 120.35 C474.94 118.69 474.42 117.19 474.34 114.91 Z" fill="#ff5a1c" stroke="#3a1a1a" stroke-width="0.5"/>
<path d="M385.00 171.27 C385.71 157.68 387.68 168.99 389.25 167.73 C390.83 166.47 392.01 164.69 394.45 163.71 C396.90 162.72 400.36 162.13 403.91 161.82 C407.45 161.50 412.18 161.50 415.73 161.82 C419.27 162.13 422.74 162.76 425.18 163.71 C427.62 164.65 429.36 166.86 430.38 167.49 C431.41 168.12 430.81 168.44 431.33 167.49 C431.84 166.55 432.98 164.34 433.45 161.82 C433.93 159.30 434.05 153.94 434.16 152.36 C434.28 150.79 432.71 152.28 434.16 152.36 C435.62 152.44 441.45 152.76 442.91 152.84 C444.37 152.92 443.18 151.34 442.91 152.84 C442.63 154.33 441.45 158.75 441.25 161.82 C441.06 164.89 440.94 168.12 441.73 171.27 C442.51 174.42 444.88 177.18 445.98 180.73 C447.08 184.27 447.95 187.42 448.34 192.55 C448.74 197.67 448.58 206.33 448.34 211.45 C448.11 216.58 447.83 219.33 446.93 223.27 C446.02 227.21 444.25 231.66 442.91 235.09 C441.57 238.52 439.68 241.47 438.89 243.84 C438.10 246.20 447.16 248.37 438.18 249.27 C429.20 250.18 393.86 262.27 385.00 249.27 C376.14 236.27 384.29 184.86 385.00 171.27 Z" fill="#7e0000" stroke="#3a1a1a" stroke-width="0.5"/>
<path d="M476.71 208.38 C477.42 208.22 478.17 209.33 478.36 210.51 C478.56 211.69 478.32 213.86 477.89 215.47 C477.46 217.09 476.51 219.37 475.76 220.20 C475.01 221.03 473.87 221.11 473.40 220.44 C472.93 219.77 472.81 217.68 472.93 216.18 C473.04 214.68 473.48 212.75 474.11 211.45 C474.74 210.15 476.00 208.54 476.71 208.38 Z" fill="#7e0000" stroke="#3a1a1a" stroke-width="0.5"/>
<rect x="391.30" y="174.40" width="43.80" height="66.20" rx="9.50" ry="9.50" fill="#ff0000" stroke="#40202080" stroke-width="0.35"/>
<rect x="392.70" y="175.94" width="41.35" height="63.21" rx="8.93" ry="8.93" fill="#ff2400" stroke="#40202080" stroke-width="0.35"/>
<rect x="394.09" y="177.48" width="38.90" height="60.21" rx="8.36" ry="8.36" fill="#ff4900" stroke="#40202080" stroke-width="0.35"/>
<rect x="395.22" y="178.72" width="36.92" height="57.80" rx="7.90" ry="7.90" fill="#ff6d00" stroke="#40202080" stroke-width="0.35"/>
<rect x="396.35" y="179.96" width="34.94" height="55.39" rx="7.44" ry="7.44" fill="#ff9200" stroke="#40202080" stroke-width="0.35"/>
<rect x="397.47" y="181.20" width="32.96" height="52.97" rx="6.98" ry="6.98" fill="#ffb600" stroke="#40202080" stroke-width="0.35"/>
<rect x="398.06" y="181.85" width="31.93" height="51.71" rx="6.74" ry="6.74" fill="#ffdb00" stroke="none" stroke-width="0.35"/>
<rect x="398.65" y="182.50" width="30.90" height="50.45" rx="6.50" ry="6.50" fill="#ffff00" stroke="none" stroke-width="0.35"/>
<rect x="399.24" y="183.15" width="29.87" height="49.19" rx="6.26" ry="6.26" fill="#dbff24" stroke="none" stroke-width="0.35"/>
<rect x="399.83" y="183.80" width="28.84" height="47.93" rx="6.02" ry="6.02" fill="#b6ff49" stroke="none" stroke-width="0.35"/>
<rect x="400.14" y="184.15" width="28.28" height="47.25" rx="5.89" ry="5.89" fill="#92ff6d" stroke="none" stroke-width="0.35"/>
<rect x="400.46" y="184.50" width="27.72" height="46.57" rx="5.76" ry="5.76" fill="#6dff92" stroke="none" stroke-width="0.35"/>
<rect x="400.78" y="184.85" width="27.16" height="45.88" rx="5.63" ry="5.63" fill="#49ffb6" stroke="none" stroke-width="0.35"/>
<rect x="401.10" y="185.20" width="26.60" height="45.20" rx="5.50" ry="5.50" fill="#24ffdb" stroke="none" stroke-width="0.35"/>
<rect x="401.42" y="185.55" width="26.04" height="44.52" rx="5.37" ry="5.37" fill="#00ffff" stroke="none" stroke-width="0.35"/>
<rect x="401.74" y="185.90" width="25.48" height="43.84" rx="5.24" ry="5.24" fill="#00dbff" stroke="none" stroke-width="0.35"/>
<rect x="402.23" y="186.44" width="24.62" height="42.78" rx="5.04" ry="5.04" fill="#00b6ff" stroke="none" stroke-width="0.35"/>
<rect x="402.72" y="186.98" width="23.76" height="41.74" rx="4.84" ry="4.84" fill="#0092ff" stroke="none" stroke-width="0.35"/>
<rect x="403.21" y="187.52" width="22.90" height="40.69" rx="4.64" ry="4.64" fill="#006dff" stroke="none" stroke-width="0.35"/>
<rect x="403.77" y="188.14" width="21.92" height="39.49" rx="4.41" ry="4.41" fill="#0049ff" stroke="none" stroke-width="0.35"/>
<rect x="404.32" y="188.75" width="20.94" height="38.29" rx="4.18" ry="4.18" fill="#0024ff" stroke="none" stroke-width="0.35"/>
<rect x="404.88" y="189.37" width="19.96" height="37.09" rx="3.96" ry="3.96" fill="#0000ff" stroke="none" stroke-width="0.35"/>
<rect x="405.44" y="189.98" width="18.98" height="35.90" rx="3.73" ry="3.73" fill="#0000db" stroke="none" stroke-width="0.35"/>
<rect x="406.00" y="190.60" width="18.00" height="34.70" rx="3.50" ry="3.50" fill="#0000b6" stroke="none" stroke-width="0.35"/>
<rect x="406.00" y="190.60" width="18.00" height="34.70" rx="3.50" ry="3.50" fill="#000092" stroke="none" stroke-width="0.35"/>
</g>
<rect x="389.30" y="42.90" width="119.60" height="201.00" fill="none" stroke="#555" stroke-width="0.5"/>
<line x1="389.30" y1="88.30" x2="390.90" y2="88.30" stroke="#555" stroke-width="0.5"/>
<line x1="508.90" y1="88.30" x2="507.30" y2="88.30" stroke="#555" stroke-width="0.5"/>
<line x1="389.30" y1="140.40" x2="390.90" y2="140.40" stroke="#555" stroke-width="0.5"/>
<line x1="508.90" y1="140.40" x2="507.30" y2="140.40" stroke="#555" stroke-width="0.5"/>
<line x1="389.30" y1="192.50" x2="390.90" y2="192.50" stroke="#555" stroke-width="0.5"/>
<line x1="508.90" y1="192.50" x2="507.30" y2="192.50" stroke="#555" stroke-width="0.5"/>
<line x1="420.20" y1="243.90" x2="420.20" y2="242.30" stroke="#555" stroke-width="0.5"/>
<line x1="420.20" y1="42.90" x2="420.20" y2="44.50" stroke="#555" stroke-width="0.5"/>
<line x1="451.00" y1="243.90" x2="451.00" y2="242.30" stroke="#555" stroke-width="0.5"/>
<line x1="451.00" y1="42.90" x2="451.00" y2="44.50" stroke="#555" stroke-width="0.5"/>
<line x1="481.30" y1="243.90" x2="481.30" y2="242.30" stroke="#555" stroke-width="0.5"/>
<line x1="481.30" y1="42.90" x2="481.30" y2="44.50" stroke="#555" stroke-width="0.5"/>
<rect x="521.40" y="43.20" width="8.60" height="7.46" fill="#920000"/>
<rect x="521.40" y="50.36" width="8.60" height="7.46" fill="#b60000"/>
<rect x="521.40" y="57.53" width="8.60" height="7.46" fill="#db0000"/>
<rect x="521.40" y="64.69" width="8.60" height="7.46" fill="#ff0000"/>
<rect x="521.40" y="71.86" width="8.60" height="7.46" fill="#ff2400"/>
<rect x="521.40" y="79.02" width="8.60" height="7.46" fill="#ff4900"/>
<rect x="521.40" y="86.19" width="8.60" height="7.46" fill="#ff6d00"/>
<rect x="521.40" y="93.35" width="8.60" height="7.46" fill="#ff9200"/>
<rect x="521.40" y="100.51" width="8.60" height="7.46" fill="#ffb600"/>
<rect x="521.40" y="107.68" width="8.60" height="7.46" fill="#ffdb00"/>
<rect x="521.40" y="114.84" width="8.60" height="7.46" fill="#ffff00"/>
<rect x="521.40" y="122.01" width="8.60" height="7.46" fill="#dbff24"/>
<rect x="521.40" y="129.17" width="8.60" height="7.46" fill="#b6ff49"/>
<rect x="521.40" y="136.34" width="8.60" height="7.46" fill="#92ff6d"/>
<rect x="521.40" y="143.50" width="8.60" height="7.46" fill="#6dff92"/>
<rect x="521.40" y="150.66" width="8.60" height="7.46" fill="#49ffb6"/>
<rect x="521.40" y="157.83" width="8.60" height="7.46" fill="#24ffdb"/>
<rect x="521.40" y="164.99" width="8.60" height="7.46" fill="#00ffff"/>
<rect x="521.40" y="172.16" width="8.60" height="7.46" fill="#00dbff"/>
<rect x="521.40" y="179.32" width="8.60" height="7.46" fill="#00b6ff"/>
<rect x="521.40" y="186.49" width="8.60" height="7.46" fill="#0092ff"/>
<rect x="521.40" y="193.65" width="8.60" height="7.46" fill="#006dff"/>
<rect x="521.40" y="200.81" width="8.60" height="7.46" fill="#0049ff"/>
<rect x="521.40" y="207.98" width="8.60" height="7.46" fill="#0024ff"/>
<rect x="521.40" y="215.14" width="8.60" height="7.46" fill="#0000ff"/>
<rect x="521.40" y="222.31" width="8.60" height="7.46" fill="#0000db"/>
<rect x="521.40" y="229.47" width="8.60" height="7.46" fill="#0000b6"/>
<rect x="521.40" y="236.64" width="8.60" height="7.46" fill="#000092"/>
<g font-family="Liberation Serif, serif" font-weight="bold" fill="#161616">
<text x="385.20" y="44.00" font-size="9.5" text-anchor="end" dominant-baseline="central" >5.02</text>
<text x="385.20" y="88.20" font-size="9.5" text-anchor="end" dominant-baseline="central" >3.76</text>
<text x="385.20" y="140.50" font-size="9.5" text-anchor="end" dominant-baseline="central" >2.51</text>
<text x="385.20" y="192.60" font-size="9.5" text-anchor="end" dominant-baseline="central" >1.25</text>
<text x="385.20" y="244.60" font-size="9.5" text-anchor="end" dominant-baseline="central" >0</text>
<text x="389.30" y="255.70" font-size="9.5" text-anchor="middle" dominant-baseline="central" >0</text>
<text x="420.20" y="255.70" font-size="9.5" text-anchor="middle" dominant-baseline="central" >0.74</text>
<text x="451.00" y="255.70" font-size="9.5" text-anchor="middle" dominant-baseline="central" >1.49</text>
<text x="481.30" y="255.70" font-size="9.5" text-anchor="middle" dominant-baseline="central" >2.23</text>
<text x="508.90" y="255.70" font-size="9.5" text-anchor="middle" dominant-baseline="central" >2.98</text>
<text x="448.90" y="267.60" font-size="11.4" text-anchor="middle" dominant-baseline="central" >X/(km)</text>
<text x="359.30" y="143.00" font-size="11.6" text-anchor="middle" dominant-baseline="central" transform="rotate(-90 359.3 143)" >Y/(km)</text>
<text x="525.60" y="35.60" font-size="8.7" text-anchor="middle" dominant-baseline="central" >nT</text>
<text x="533.50" y="56.40" font-size="8.7" text-anchor="start" dominant-baseline="central" >0</text>
<text x="533.50" y="74.30" font-size="8.7" text-anchor="start" dominant-baseline="central" >-0.5</text>
<text x="533.50" y="92.20" font-size="8.7" text-anchor="start" dominant-baseline="central" >-1</text>
<text x="533.50" y="110.10" font-size="8.7" text-anchor="start" dominant-baseline="central" >-1.5</text>
<text x="533.50" y="128.00" font-size="8.7" text-anchor="start" dominant-baseline="central" >-2</text>
<text x="533.50" y="145.90" font-size="8.7" text-anchor="start" dominant-baseline="central" >-2.5</text>
<text x="533.50" y="163.80" font-size="8.7" text-anchor="start" dominant-baseline="central" >-3</text>
<text x="533.50" y="181.70" font-size="8.7" text-anchor="start" dominant-baseline="central" >-3.5</text>
<text x="533.50" y="199.60" font-size="8.7" text-anchor="start" dominant-baseline="central" >-4</text>
<text x="533.50" y="217.50" font-size="8.7" text-anchor="start" dominant-baseline="central" >-4.5</text>
<text x="533.50" y="235.40" font-size="8.7" text-anchor="start" dominant-baseline="central" >-5</text>
<text y="11.30" font-size="19.3" text-anchor="middle" xml:space="preserve"><tspan x="375.00" dominant-baseline="central">(</tspan><tspan x="390.40" y="18.00" font-size="21.5"> b </tspan><tspan x="405.60" y="11.30" dominant-baseline="central">)</tspan></text>
</g>
<clipPath id="cd"><rect x="389.30" y="329.30" width="119.60" height="201.40"/></clipPath>
<rect x="389.30" y="329.30" width="119.60" height="201.40" fill="#ff530f"/>
<g clip-path="url(#cd)">
<path d="M484.27 346.75 C484.08 344.62 485.26 342.53 486.64 341.07 C488.01 339.62 490.38 338.39 492.54 338.00 C494.71 337.61 497.67 337.80 499.64 338.71 C501.61 339.62 503.38 341.70 504.36 343.44 C505.35 345.17 505.94 347.30 505.54 349.11 C505.15 350.92 503.77 353.13 502.00 354.31 C500.23 355.49 497.27 356.28 494.91 356.20 C492.54 356.12 489.59 355.41 487.82 353.84 C486.04 352.26 484.47 348.87 484.27 346.75 Z" fill="#f4100c" stroke="#3a1a1a" stroke-width="0.5"/>
<path d="M487.58 348.16 C487.42 346.82 488.92 345.09 490.42 344.38 C491.91 343.67 494.83 343.36 496.56 343.91 C498.30 344.46 500.58 346.35 500.82 347.69 C501.05 349.03 499.56 351.16 497.98 351.95 C496.41 352.73 493.10 353.05 491.36 352.42 C489.63 351.79 487.74 349.50 487.58 348.16 Z" fill="#cc0008" stroke="#3a1a1a" stroke-width="0.3"/>
<path d="M490.42 347.93 C490.38 347.30 491.21 346.55 492.07 346.27 C492.94 346.00 494.63 345.96 495.62 346.27 C496.60 346.59 497.90 347.53 497.98 348.16 C498.06 348.79 497.04 349.74 496.09 350.05 C495.14 350.37 493.25 350.41 492.31 350.05 C491.36 349.70 490.46 348.56 490.42 347.93 Z" fill="#7e0000" stroke="#3a1a1a" stroke-width="0.3"/>
<path d="M395.64 380.55 C395.83 378.38 396.42 375.42 398.00 373.45 C399.58 371.48 402.53 369.59 405.09 368.73 C407.65 367.86 411.00 367.66 413.36 368.25 C415.73 368.85 417.78 370.22 419.27 372.27 C420.77 374.32 421.36 377.39 422.35 380.55 C423.33 383.70 424.12 387.83 425.18 391.18 C426.25 394.53 428.14 397.88 428.73 400.64 C429.32 403.39 429.32 405.68 428.73 407.73 C428.14 409.78 426.76 411.82 425.18 412.93 C423.61 414.03 421.44 414.62 419.27 414.34 C417.11 414.07 414.15 413.16 412.18 411.27 C410.21 409.38 409.03 405.95 407.45 403.00 C405.88 400.04 404.50 396.30 402.73 393.54 C400.95 390.79 398.00 388.62 396.82 386.45 C395.64 384.29 395.44 382.71 395.64 380.55 Z" fill="#f4100c" stroke="#3a1a1a" stroke-width="0.5"/>
<path d="M407.99 380.66 C408.92 379.64 411.86 378.76 413.32 378.84 C414.78 378.93 415.92 379.73 416.73 381.19 C417.55 382.65 417.52 385.49 418.23 387.59 C418.94 389.68 419.93 391.60 421.00 393.77 C422.06 395.94 424.13 398.69 424.62 400.59 C425.12 402.49 424.59 403.72 423.98 405.18 C423.38 406.63 422.24 408.89 421.00 409.33 C419.75 409.78 417.87 408.80 416.52 407.84 C415.17 406.88 413.71 405.32 412.90 403.58 C412.08 401.84 412.18 399.49 411.62 397.39 C411.05 395.30 410.12 393.08 409.48 391.00 C408.84 388.92 408.03 386.64 407.78 384.92 C407.53 383.20 407.07 381.67 407.99 380.66 Z" fill="#c8000c" stroke="#3a1a1a" stroke-width="0.3"/>
<path d="M409.06 381.19 L413.32 379.91 L415.67 381.72 L417.05 387.59 L419.93 393.98 L423.45 400.91 L422.92 404.64 L420.57 408.06 L417.05 406.78 L413.86 403.04 L412.79 397.18 L410.66 390.78 L408.84 384.92 Z" fill="#8a0008" stroke="#3a1a1a" stroke-width="0.25"/>
<path d="M435.82 372.98 C437.51 372.78 440.03 375.74 441.73 378.18 C443.42 380.62 445.00 384.48 445.98 387.64 C446.97 390.79 447.95 394.21 447.64 397.09 C447.32 399.97 445.39 403.43 444.09 404.89 C442.79 406.35 441.21 406.74 439.84 405.84 C438.46 404.93 437.08 402.29 435.82 399.45 C434.56 396.62 432.98 392.17 432.27 388.82 C431.56 385.47 430.97 382.00 431.56 379.36 C432.15 376.72 434.12 373.18 435.82 372.98 Z" fill="#ffa21c" stroke="#3a1a1a" stroke-width="0.5"/>
<path d="M464.80 383.30 C465.70 381.25 467.95 378.23 470.70 375.30 C473.45 372.37 478.82 367.93 481.30 365.70 C483.78 363.47 484.00 362.65 485.60 361.90 C487.20 361.15 489.30 361.10 490.90 361.20 C492.50 361.30 493.78 361.22 495.20 362.50 C496.62 363.78 498.17 366.07 499.40 368.90 C500.63 371.73 501.08 376.32 502.60 379.50 C504.12 382.68 506.60 385.25 508.50 388.00 C510.40 390.75 514.00 393.33 514.00 396.00 C514.00 398.67 510.40 401.87 508.50 404.00 C506.60 406.13 504.82 408.08 502.60 408.80 C500.38 409.52 498.75 409.45 495.20 408.30 C491.65 407.15 485.38 404.38 481.30 401.90 C477.22 399.42 473.37 395.78 470.70 393.40 C468.03 391.02 466.28 389.28 465.30 387.60 C464.32 385.92 463.90 385.35 464.80 383.30 Z" fill="#ffa21c" stroke="#3a1a1a" stroke-width="0.5"/>
<path d="M476.00 384.50 C475.93 383.23 476.28 381.17 477.20 380.20 C478.12 379.23 480.13 378.68 481.50 378.70 C482.87 378.72 484.63 379.42 485.40 380.30 C486.17 381.18 486.33 382.78 486.10 384.00 C485.87 385.22 484.88 386.75 484.00 387.60 C483.12 388.45 481.87 389.07 480.80 389.10 C479.73 389.13 478.40 388.57 477.60 387.80 C476.80 387.03 476.07 385.77 476.00 384.50 Z" fill="#d8ff28" stroke="#3a1a1a" stroke-width="0.3"/>
<circle cx="473.64" cy="361.64" r="0.6" fill="#a03010"/>
<path d="M385.00 457.45 C385.71 443.47 387.68 454.30 389.25 452.73 C390.83 451.15 392.01 449.06 394.45 448.00 C396.90 446.94 400.36 446.35 403.91 446.35 C407.45 446.35 411.79 447.21 415.73 448.00 C419.67 448.79 424.00 449.89 427.55 451.07 C431.09 452.25 434.24 453.24 437.00 455.09 C439.76 456.94 441.92 459.42 444.09 462.18 C446.26 464.94 448.23 468.68 450.00 471.64 C451.77 474.59 452.95 477.94 454.73 479.91 C456.50 481.88 458.08 483.06 460.64 483.45 C463.20 483.85 466.94 482.55 470.09 482.27 C473.24 482.00 476.39 481.21 479.54 481.80 C482.70 482.39 486.04 483.97 489.00 485.82 C491.95 487.67 495.03 489.95 497.27 492.91 C499.52 495.86 501.68 500.00 502.47 503.54 C503.26 507.09 503.06 510.83 502.00 514.18 C500.94 517.53 498.65 521.27 496.09 523.64 C493.53 526.00 489.79 527.46 486.64 528.36 C483.48 529.27 480.33 529.47 477.18 529.07 C474.03 528.68 470.88 527.69 467.73 526.00 C464.58 524.31 460.83 520.29 458.27 518.91 C455.71 517.53 454.14 516.94 452.36 517.73 C450.59 518.51 449.01 521.47 447.64 523.64 C446.26 525.80 444.88 528.56 444.09 530.73 C443.30 532.89 452.76 535.65 442.91 536.64 C433.06 537.62 394.65 549.83 385.00 536.64 C375.35 523.44 384.29 471.44 385.00 457.45 Z" fill="#f4100c" stroke="#3a1a1a" stroke-width="0.5"/>
<path d="M464.18 505.91 C464.30 503.15 465.17 499.88 466.54 497.64 C467.92 495.39 470.29 493.42 472.45 492.44 C474.62 491.45 477.18 491.37 479.54 491.73 C481.91 492.08 484.67 492.79 486.64 494.56 C488.61 496.34 490.57 499.49 491.36 502.36 C492.15 505.24 492.15 509.18 491.36 511.82 C490.57 514.46 488.61 516.62 486.64 518.20 C484.67 519.78 482.11 521.04 479.54 521.27 C476.98 521.51 473.56 520.80 471.27 519.62 C468.99 518.44 467.02 516.47 465.84 514.18 C464.65 511.90 464.06 508.67 464.18 505.91 Z" fill="#7e0000" stroke="#3a1a1a" stroke-width="0.3"/>
<rect x="390.20" y="462.20" width="47.30" height="66.40" rx="9.00" ry="9.00" fill="#ff6d00" stroke="#40202080" stroke-width="0.35"/>
<rect x="392.07" y="463.82" width="43.66" height="63.20" rx="8.34" ry="8.34" fill="#ff9200" stroke="#40202080" stroke-width="0.35"/>
<rect x="393.94" y="465.44" width="40.03" height="59.99" rx="7.68" ry="7.68" fill="#ffb600" stroke="#40202080" stroke-width="0.35"/>
<rect x="394.65" y="466.05" width="38.66" height="58.79" rx="7.43" ry="7.43" fill="#ffdb00" stroke="#40202080" stroke-width="0.35"/>
<rect x="395.35" y="466.65" width="37.30" height="57.59" rx="7.19" ry="7.19" fill="#ffff00" stroke="#40202080" stroke-width="0.35"/>
<rect x="396.05" y="467.26" width="35.94" height="56.39" rx="6.94" ry="6.94" fill="#dbff24" stroke="#40202080" stroke-width="0.35"/>
<rect x="396.75" y="467.87" width="34.57" height="55.19" rx="6.69" ry="6.69" fill="#b6ff49" stroke="none" stroke-width="0.35"/>
<rect x="397.43" y="468.45" width="33.26" height="54.03" rx="6.45" ry="6.45" fill="#92ff6d" stroke="none" stroke-width="0.35"/>
<rect x="398.10" y="469.04" width="31.95" height="52.87" rx="6.21" ry="6.21" fill="#6dff92" stroke="none" stroke-width="0.35"/>
<rect x="398.78" y="469.62" width="30.64" height="51.72" rx="5.97" ry="5.97" fill="#49ffb6" stroke="none" stroke-width="0.35"/>
<rect x="399.48" y="470.23" width="29.27" height="50.51" rx="5.73" ry="5.73" fill="#24ffdb" stroke="none" stroke-width="0.35"/>
<rect x="400.18" y="470.84" width="27.91" height="49.31" rx="5.48" ry="5.48" fill="#00ffff" stroke="none" stroke-width="0.35"/>
<rect x="400.89" y="471.45" width="26.54" height="48.11" rx="5.23" ry="5.23" fill="#00dbff" stroke="none" stroke-width="0.35"/>
<rect x="401.59" y="472.06" width="25.18" height="46.91" rx="4.99" ry="4.99" fill="#00b6ff" stroke="none" stroke-width="0.35"/>
<rect x="402.19" y="472.58" width="24.01" height="45.88" rx="4.77" ry="4.77" fill="#0092ff" stroke="none" stroke-width="0.35"/>
<rect x="402.79" y="473.10" width="22.84" height="44.85" rx="4.56" ry="4.56" fill="#006dff" stroke="none" stroke-width="0.35"/>
<rect x="403.39" y="473.62" width="21.67" height="43.82" rx="4.35" ry="4.35" fill="#0049ff" stroke="none" stroke-width="0.35"/>
<rect x="403.99" y="474.14" width="20.51" height="42.79" rx="4.14" ry="4.14" fill="#0024ff" stroke="none" stroke-width="0.35"/>
<rect x="404.60" y="474.66" width="19.34" height="41.76" rx="3.92" ry="3.92" fill="#0000ff" stroke="none" stroke-width="0.35"/>
<rect x="405.20" y="475.18" width="18.17" height="40.73" rx="3.71" ry="3.71" fill="#0000db" stroke="none" stroke-width="0.35"/>
<rect x="405.80" y="475.70" width="17.00" height="39.70" rx="3.50" ry="3.50" fill="#0000b6" stroke="none" stroke-width="0.35"/>
<rect x="405.80" y="475.70" width="17.00" height="39.70" rx="3.50" ry="3.50" fill="#000092" stroke="none" stroke-width="0.35"/>
</g>
<rect x="389.30" y="329.30" width="119.60" height="201.40" fill="none" stroke="#555" stroke-width="0.5"/>
<line x1="389.30" y1="374.90" x2="390.90" y2="374.90" stroke="#555" stroke-width="0.5"/>
<line x1="508.90" y1="374.90" x2="507.30" y2="374.90" stroke="#555" stroke-width="0.5"/>
<line x1="389.30" y1="427.00" x2="390.90" y2="427.00" stroke="#555" stroke-width="0.5"/>
<line x1="508.90" y1="427.00" x2="507.30" y2="427.00" stroke="#555" stroke-width="0.5"/>
<line x1="389.30" y1="479.10" x2="390.90" y2="479.10" stroke="#555" stroke-width="0.5"/>
<line x1="508.90" y1="479.10" x2="507.30" y2="479.10" stroke="#555" stroke-width="0.5"/>
<line x1="420.20" y1="530.70" x2="420.20" y2="529.10" stroke="#555" stroke-width="0.5"/>
<line x1="420.20" y1="329.30" x2="420.20" y2="330.90" stroke="#555" stroke-width="0.5"/>
<line x1="451.00" y1="530.70" x2="451.00" y2="529.10" stroke="#555" stroke-width="0.5"/>
<line x1="451.00" y1="329.30" x2="451.00" y2="330.90" stroke="#555" stroke-width="0.5"/>
<line x1="481.30" y1="530.70" x2="481.30" y2="529.10" stroke="#555" stroke-width="0.5"/>
<line x1="481.30" y1="329.30" x2="481.30" y2="330.90" stroke="#555" stroke-width="0.5"/>
<rect x="521.40" y="329.40" width="8.80" height="7.48" fill="#920000"/>
<rect x="521.40" y="336.58" width="8.80" height="7.48" fill="#b60000"/>
<rect x="521.40" y="343.76" width="8.80" height="7.48" fill="#db0000"/>
<rect x="521.40" y="350.94" width="8.80" height="7.48" fill="#ff0000"/>
<rect x="521.40" y="358.11" width="8.80" height="7.48" fill="#ff2400"/>
<rect x="521.40" y="365.29" width="8.80" height="7.48" fill="#ff4900"/>
<rect x="521.40" y="372.47" width="8.80" height="7.48" fill="#ff6d00"/>
<rect x="521.40" y="379.65" width="8.80" height="7.48" fill="#ff9200"/>
<rect x="521.40" y="386.83" width="8.80" height="7.48" fill="#ffb600"/>
<rect x="521.40" y="394.01" width="8.80" height="7.48" fill="#ffdb00"/>
<rect x="521.40" y="401.19" width="8.80" height="7.48" fill="#ffff00"/>
<rect x="521.40" y="408.36" width="8.80" height="7.48" fill="#dbff24"/>
<rect x="521.40" y="415.54" width="8.80" height="7.48" fill="#b6ff49"/>
<rect x="521.40" y="422.72" width="8.80" height="7.48" fill="#92ff6d"/>
<rect x="521.40" y="429.90" width="8.80" height="7.48" fill="#6dff92"/>
<rect x="521.40" y="437.08" width="8.80" height="7.48" fill="#49ffb6"/>
<rect x="521.40" y="444.26" width="8.80" height="7.48" fill="#24ffdb"/>
<rect x="521.40" y="451.44" width="8.80" height="7.48" fill="#00ffff"/>
<rect x="521.40" y="458.61" width="8.80" height="7.48" fill="#00dbff"/>
<rect x="521.40" y="465.79" width="8.80" height="7.48" fill="#00b6ff"/>
<rect x="521.40" y="472.97" width="8.80" height="7.48" fill="#0092ff"/>
<rect x="521.40" y="480.15" width="8.80" height="7.48" fill="#006dff"/>
<rect x="521.40" y="487.33" width="8.80" height="7.48" fill="#0049ff"/>
<rect x="521.40" y="494.51" width="8.80" height="7.48" fill="#0024ff"/>
<rect x="521.40" y="501.69" width="8.80" height="7.48" fill="#0000ff"/>
<rect x="521.40" y="508.86" width="8.80" height="7.48" fill="#0000db"/>
<rect x="521.40" y="516.04" width="8.80" height="7.48" fill="#0000b6"/>
<rect x="521.40" y="523.22" width="8.80" height="7.48" fill="#000092"/>
<g font-family="Liberation Serif, serif" font-weight="bold" fill="#161616">
<text x="385.20" y="330.60" font-size="9.5" text-anchor="end" dominant-baseline="central" >5.02</text>
<text x="385.20" y="374.80" font-size="9.5" text-anchor="end" dominant-baseline="central" >3.76</text>
<text x="385.20" y="427.10" font-size="9.5" text-anchor="end" dominant-baseline="central" >2.51</text>
<text x="385.20" y="479.20" font-size="9.5" text-anchor="end" dominant-baseline="central" >1.25</text>
<text x="385.20" y="531.20" font-size="9.5" text-anchor="end" dominant-baseline="central" >0</text>
<text x="389.30" y="542.30" font-size="9.5" text-anchor="middle" dominant-baseline="central" >0</text>
<text x="420.20" y="542.30" font-size="9.5" text-anchor="middle" dominant-baseline="central" >0.74</text>
<text x="451.00" y="542.30" font-size="9.5" text-anchor="middle" dominant-baseline="central" >1.49</text>
<text x="481.30" y="542.30" font-size="9.5" text-anchor="middle" dominant-baseline="central" >2.23</text>
<text x="508.90" y="542.30" font-size="9.5" text-anchor="middle" dominant-baseline="central" >2.98</text>
<text x="448.90" y="554.20" font-size="11.4" text-anchor="middle" dominant-baseline="central" >X/(km)</text>
<text x="359.30" y="429.60" font-size="11.6" text-anchor="middle" dominant-baseline="central" transform="rotate(-90 359.3 429.6)" >Y/(km)</text>
<text x="525.60" y="322.20" font-size="8.7" text-anchor="middle" dominant-baseline="central" >nT</text>
<text x="533.50" y="332.50" font-size="8.7" text-anchor="start" dominant-baseline="central" >1</text>
<text x="533.50" y="363.65" font-size="8.7" text-anchor="start" dominant-baseline="central" >0</text>
<text x="533.50" y="394.80" font-size="8.7" text-anchor="start" dominant-baseline="central" >-1</text>
<text x="533.50" y="425.95" font-size="8.7" text-anchor="start" dominant-baseline="central" >-2</text>
<text x="533.50" y="457.10" font-size="8.7" text-anchor="start" dominant-baseline="central" >-3</text>
<text x="533.50" y="488.25" font-size="8.7" text-anchor="start" dominant-baseline="central" >-4</text>
<text x="533.50" y="519.40" font-size="8.7" text-anchor="start" dominant-baseline="central" >-5</text>
<text y="294.90" font-size="19.3" text-anchor="middle" xml:space="preserve"><tspan x="374.40" dominant-baseline="central">(</tspan><tspan x="390.20" y="301.60" font-size="21.5"> d </tspan><tspan x="405.50" y="294.90" dominant-baseline="central">)</tspan></text>
</g>
</svg></body></html>
